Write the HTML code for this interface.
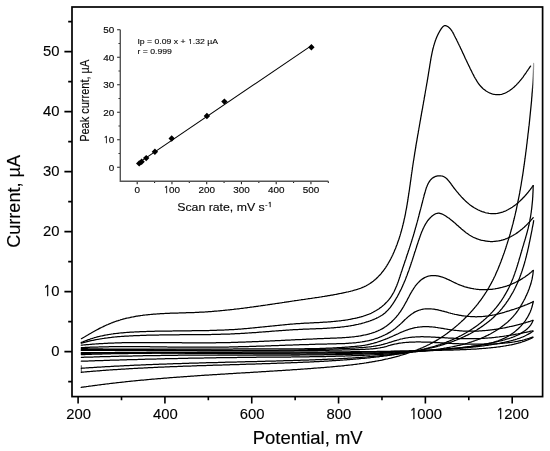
<!DOCTYPE html><html><head><meta charset="utf-8"><style>html,body{margin:0;padding:0;background:#fff;}svg{display:block;}text{font-family:"Liberation Sans", Arial, sans-serif;fill:#000;}</style></head><body>
<svg width="550" height="451" viewBox="0 0 550 451">
<rect x="0" y="0" width="550" height="451" fill="#fff"/>
<path d="M78.10 396.6V403.6 M164.92 396.6V403.6 M251.74 396.6V403.6 M338.56 396.6V403.6 M425.38 396.6V403.6 M512.20 396.6V403.6 M121.51 396.6V400.2 M208.33 396.6V400.2 M295.15 396.6V400.2 M381.97 396.6V400.2 M468.79 396.6V400.2 M64.4 351.60H72 M64.4 291.60H72 M64.4 231.60H72 M64.4 171.60H72 M64.4 111.60H72 M64.4 51.60H72 M68.2 381.60H72 M68.2 321.60H72 M68.2 261.60H72 M68.2 201.60H72 M68.2 141.60H72 M68.2 81.60H72 M68.2 21.60H72" stroke="#000" stroke-width="1.6" fill="none"/>
<rect x="72" y="7" width="470.6" height="389.6" stroke="#000" stroke-width="1.7" fill="none"/>
<text transform="translate(78.50 419.10) scale(0.97 1)" font-size="15.3" text-anchor="middle" stroke="#000" stroke-width="0.12">200</text>
<text transform="translate(165.32 419.10) scale(0.97 1)" font-size="15.3" text-anchor="middle" stroke="#000" stroke-width="0.12">400</text>
<text transform="translate(252.14 419.10) scale(0.97 1)" font-size="15.3" text-anchor="middle" stroke="#000" stroke-width="0.12">600</text>
<text transform="translate(338.96 419.10) scale(0.97 1)" font-size="15.3" text-anchor="middle" stroke="#000" stroke-width="0.12">800</text>
<text transform="translate(425.78 419.10) scale(0.97 1)" font-size="15.3" text-anchor="middle" stroke="#000" stroke-width="0.12"><tspan font-family="NanumGothic, Liberation Sans, sans-serif" font-size="13.46" stroke="#000" stroke-width="0.38">1</tspan>000</text>
<text transform="translate(512.60 419.10) scale(0.97 1)" font-size="15.3" text-anchor="middle" stroke="#000" stroke-width="0.12"><tspan font-family="NanumGothic, Liberation Sans, sans-serif" font-size="13.46" stroke="#000" stroke-width="0.38">1</tspan>200</text>
<text transform="translate(59.50 355.70) scale(0.97 1)" font-size="15.3" text-anchor="end" stroke="#000" stroke-width="0.12">0</text>
<text transform="translate(59.50 295.70) scale(0.97 1)" font-size="15.3" text-anchor="end" stroke="#000" stroke-width="0.12"><tspan font-family="NanumGothic, Liberation Sans, sans-serif" font-size="13.46" stroke="#000" stroke-width="0.38">1</tspan>0</text>
<text transform="translate(59.50 235.70) scale(0.97 1)" font-size="15.3" text-anchor="end" stroke="#000" stroke-width="0.12">20</text>
<text transform="translate(59.50 175.70) scale(0.97 1)" font-size="15.3" text-anchor="end" stroke="#000" stroke-width="0.12">30</text>
<text transform="translate(59.50 115.70) scale(0.97 1)" font-size="15.3" text-anchor="end" stroke="#000" stroke-width="0.12">40</text>
<text transform="translate(59.50 55.70) scale(0.97 1)" font-size="15.3" text-anchor="end" stroke="#000" stroke-width="0.12">50</text>
<text transform="translate(307.70 443.90) scale(1.04 1)" font-size="17.8" text-anchor="middle" stroke="#000" stroke-width="0.15">Potential, mV</text>
<text transform="translate(19.50 201.40) rotate(-90) scale(1 1.0)" font-size="18.1" text-anchor="middle" stroke="#000" stroke-width="0.15">Current, µA</text>
<path d="M137.20 181.3V184.2 M171.95 181.3V184.2 M206.70 181.3V184.2 M241.45 181.3V184.2 M276.20 181.3V184.2 M310.95 181.3V184.2 M154.57 181.3V182.9 M189.32 181.3V182.9 M224.07 181.3V182.9 M258.82 181.3V182.9 M293.57 181.3V182.9 M328.32 181.3V182.9 M117.1 167.20H120.3 M117.1 139.70H120.3 M117.1 112.20H120.3 M117.1 84.70H120.3 M117.1 57.20H120.3 M117.1 29.70H120.3 M118.5 153.45H120.3 M118.5 125.95H120.3 M118.5 98.45H120.3 M118.5 70.95H120.3 M118.5 43.45H120.3" stroke="#222" stroke-width="1.1" fill="none"/>
<path d="M120.3 29.8V181.3H328.3" stroke="#555" stroke-width="1.4" fill="none"/>
<text transform="translate(137.20 193.40) scale(1.03 1)" font-size="9.6" text-anchor="middle" fill="#222" stroke="#222" stroke-width="0.18">0</text>
<text transform="translate(171.95 193.40) scale(1.03 1)" font-size="9.6" text-anchor="middle" fill="#222" stroke="#222" stroke-width="0.18"><tspan font-family="NanumGothic, Liberation Sans, sans-serif" font-size="8.45" stroke="#222" stroke-width="0.34">1</tspan>00</text>
<text transform="translate(206.70 193.40) scale(1.03 1)" font-size="9.6" text-anchor="middle" fill="#222" stroke="#222" stroke-width="0.18">200</text>
<text transform="translate(241.45 193.40) scale(1.03 1)" font-size="9.6" text-anchor="middle" fill="#222" stroke="#222" stroke-width="0.18">300</text>
<text transform="translate(276.20 193.40) scale(1.03 1)" font-size="9.6" text-anchor="middle" fill="#222" stroke="#222" stroke-width="0.18">400</text>
<text transform="translate(310.95 193.40) scale(1.03 1)" font-size="9.6" text-anchor="middle" fill="#222" stroke="#222" stroke-width="0.18">500</text>
<text transform="translate(114.30 170.60) scale(1.03 1)" font-size="9.6" text-anchor="end" fill="#222" stroke="#222" stroke-width="0.18">0</text>
<text transform="translate(114.30 143.10) scale(1.03 1)" font-size="9.6" text-anchor="end" fill="#222" stroke="#222" stroke-width="0.18"><tspan font-family="NanumGothic, Liberation Sans, sans-serif" font-size="8.45" stroke="#222" stroke-width="0.34">1</tspan>0</text>
<text transform="translate(114.30 115.60) scale(1.03 1)" font-size="9.6" text-anchor="end" fill="#222" stroke="#222" stroke-width="0.18">20</text>
<text transform="translate(114.30 88.10) scale(1.03 1)" font-size="9.6" text-anchor="end" fill="#222" stroke="#222" stroke-width="0.18">30</text>
<text transform="translate(114.30 60.60) scale(1.03 1)" font-size="9.6" text-anchor="end" fill="#222" stroke="#222" stroke-width="0.18">40</text>
<text transform="translate(114.30 33.10) scale(1.03 1)" font-size="9.6" text-anchor="end" fill="#222" stroke="#222" stroke-width="0.18">50</text>
<text transform="translate(177.2 211.3) scale(1.12 1)" font-size="11" fill="#222" stroke="#222" stroke-width="0.15">Scan rate, mV s<tspan dx="0.3" dy="-4.3" font-size="7">-</tspan><tspan font-family="NanumGothic, Liberation Sans, sans-serif" font-size="6.45" stroke-width="0.3">1</tspan></text>
<text transform="translate(89.40 100.80) rotate(-90) scale(1 1.1)" font-size="11" text-anchor="middle" fill="#222" stroke="#222" stroke-width="0.15">Peak current, µA</text>
<text transform="translate(137.40 44.20) scale(1.1 1)" font-size="7.9" text-anchor="start" fill="#222" stroke="#222" stroke-width="0.12">Ip = 0.09 x + <tspan font-family="NanumGothic, Liberation Sans, sans-serif" font-size="6.95" stroke="#222" stroke-width="0.25">1</tspan>.32 µA</text>
<text transform="translate(137.40 53.50) scale(1.1 1)" font-size="7.9" text-anchor="start" fill="#222" stroke="#222" stroke-width="0.12">r = 0.999</text>
<path d="M139 162.6L311.4 45.6" stroke="#000" stroke-width="1.1" fill="none"/>
<path d="M139.2 160.2L142.4 163.4L139.2 166.6L136.0 163.4Z M141.6 158.6L144.8 161.8L141.6 165.0L138.4 161.8Z M146.2 154.9L149.4 158.1L146.2 161.3L143.0 158.1Z M154.9 148.5L158.1 151.7L154.9 154.9L151.7 151.7Z M171.7 135.3L174.9 138.5L171.7 141.7L168.5 138.5Z M206.9 112.8L210.1 116.0L206.9 119.2L203.7 116.0Z M224.4 98.4L227.6 101.6L224.4 104.8L221.2 101.6Z M311.4 44.0L314.6 47.2L311.4 50.4L308.2 47.2Z" fill="#000"/>
<defs><linearGradient id="g1r" x1="0" y1="0" x2="0" y2="1"><stop offset="0" stop-color="#aaa"/><stop offset="0.04" stop-color="#777"/><stop offset="0.09" stop-color="#000"/><stop offset="1" stop-color="#000"/></linearGradient></defs><g fill="none" stroke="#000" stroke-width="1.25" stroke-linejoin="round" stroke-linecap="round"><path d="M81.4 338.7 L82.2 338.2 L83.1 337.7 L83.9 337.3 L84.8 336.8 L85.6 336.3 L86.5 335.8 L87.3 335.3 L88.2 334.8 L89.0 334.3 L89.9 333.8 L90.8 333.3 L91.6 332.8 L92.5 332.3 L93.4 331.8 L94.3 331.3 L95.2 330.8 L96.1 330.3 L97.0 329.8 L97.8 329.4 L98.7 328.9 L99.6 328.4 L100.5 327.9 L101.5 327.5 L102.4 327.0 L103.3 326.6 L104.2 326.1 L105.1 325.7 L106.0 325.3 L106.9 324.9 L107.9 324.5 L108.8 324.1 L109.7 323.7 L110.7 323.3 L111.6 322.9 L112.5 322.6 L113.5 322.2 L114.4 321.9 L115.3 321.5 L116.3 321.2 L117.2 320.9 L118.2 320.6 L119.1 320.3 L120.1 320.0 L121.0 319.7 L122.0 319.5 L122.9 319.2 L123.9 318.9 L124.8 318.7 L125.8 318.4 L126.8 318.2 L127.7 318.0 L128.7 317.8 L129.7 317.6 L130.6 317.3 L131.6 317.1 L132.6 317.0 L133.5 316.8 L134.5 316.6 L135.5 316.4 L136.5 316.2 L137.5 316.1 L138.4 315.9 L139.4 315.8 L140.4 315.6 L141.4 315.5 L142.4 315.4 L143.3 315.2 L144.3 315.1 L145.3 315.0 L146.3 314.9 L147.3 314.8 L148.3 314.7 L149.3 314.6 L150.3 314.5 L151.3 314.4 L152.3 314.3 L153.3 314.2 L154.3 314.1 L155.3 314.0 L156.3 314.0 L157.3 313.9 L158.3 313.8 L159.3 313.8 L160.3 313.7 L161.3 313.7 L162.3 313.6 L163.3 313.5 L164.3 313.5 L165.3 313.4 L166.3 313.4 L167.3 313.4 L168.3 313.3 L169.3 313.3 L170.3 313.2 L171.3 313.2 L172.3 313.2 L173.3 313.1 L174.3 313.1 L175.4 313.1 L176.4 313.0 L177.4 313.0 L178.4 313.0 L179.4 312.9 L180.4 312.9 L181.4 312.9 L182.4 312.8 L183.4 312.8 L184.4 312.8 L185.5 312.8 L186.5 312.7 L187.5 312.7 L188.5 312.7 L189.5 312.6 L190.5 312.6 L191.5 312.6 L192.5 312.5 L193.5 312.5 L194.5 312.5 L195.5 312.4 L196.6 312.4 L197.6 312.3 L198.6 312.3 L199.6 312.2 L200.6 312.2 L201.6 312.1 L202.6 312.1 L203.6 312.0 L204.6 312.0 L205.6 311.9 L206.6 311.8 L207.6 311.8 L208.6 311.7 L209.6 311.6 L210.6 311.5 L211.6 311.5 L212.6 311.4 L213.6 311.3 L214.6 311.2 L215.7 311.2 L216.7 311.1 L217.7 311.0 L218.7 310.9 L219.7 310.8 L220.7 310.7 L221.7 310.6 L222.7 310.5 L223.7 310.4 L224.6 310.3 L225.6 310.2 L226.6 310.1 L227.6 310.0 L228.6 309.9 L229.6 309.8 L230.6 309.7 L231.6 309.6 L232.6 309.5 L233.6 309.4 L234.6 309.2 L235.6 309.1 L236.6 309.0 L237.6 308.9 L238.6 308.8 L239.6 308.7 L240.6 308.5 L241.6 308.4 L242.6 308.3 L243.6 308.2 L244.6 308.0 L245.5 307.9 L246.5 307.8 L247.5 307.6 L248.5 307.5 L249.5 307.4 L250.5 307.2 L251.5 307.1 L252.5 307.0 L253.5 306.8 L254.5 306.7 L255.4 306.6 L256.4 306.4 L257.4 306.3 L258.4 306.1 L259.4 306.0 L260.4 305.9 L261.4 305.7 L262.4 305.6 L263.4 305.4 L264.3 305.3 L265.3 305.2 L266.3 305.0 L267.3 304.9 L268.3 304.7 L269.3 304.6 L270.3 304.4 L271.2 304.3 L272.2 304.1 L273.2 304.0 L274.2 303.8 L275.2 303.7 L276.2 303.5 L277.2 303.4 L278.1 303.3 L279.1 303.1 L280.1 303.0 L281.1 302.8 L282.1 302.7 L283.1 302.5 L284.1 302.4 L285.0 302.2 L286.0 302.1 L287.0 301.9 L288.0 301.8 L289.0 301.6 L290.0 301.5 L290.9 301.3 L291.9 301.2 L292.9 301.0 L293.9 300.9 L294.9 300.7 L295.8 300.6 L296.8 300.5 L297.8 300.3 L298.8 300.2 L299.8 300.0 L300.8 299.9 L301.7 299.7 L302.7 299.6 L303.7 299.5 L304.7 299.3 L305.7 299.2 L306.6 299.0 L307.6 298.9 L308.6 298.7 L309.6 298.6 L310.6 298.5 L311.6 298.3 L312.5 298.2 L313.5 298.0 L314.5 297.9 L315.5 297.7 L316.5 297.6 L317.5 297.5 L318.4 297.3 L319.4 297.2 L320.4 297.0 L321.4 296.9 L322.4 296.7 L323.4 296.5 L324.4 296.4 L325.3 296.2 L326.3 296.1 L327.3 295.9 L328.3 295.7 L329.3 295.6 L330.3 295.4 L331.3 295.2 L332.3 295.1 L333.3 294.9 L334.3 294.7 L335.3 294.5 L336.3 294.3 L337.2 294.1 L338.2 293.9 L339.2 293.7 L340.2 293.5 L341.2 293.3 L342.2 293.1 L343.3 292.9 L344.3 292.7 L345.3 292.5 L346.3 292.2 L347.3 292.0 L348.3 291.8 L349.3 291.5 L350.3 291.3 L351.3 291.0 L352.3 290.8 L353.3 290.5 L354.3 290.2 L355.3 290.0 L356.3 289.7 L357.3 289.4 L358.3 289.0 L359.3 288.7 L360.2 288.4 L361.2 288.0 L362.1 287.6 L363.0 287.2 L364.0 286.8 L364.9 286.4 L365.8 286.0 L366.6 285.5 L367.5 285.0 L368.4 284.5 L369.2 284.0 L370.0 283.5 L370.8 282.9 L371.6 282.4 L372.4 281.8 L373.2 281.2 L373.9 280.6 L374.7 280.0 L375.4 279.3 L376.2 278.7 L376.9 278.0 L377.6 277.3 L378.3 276.6 L378.9 275.9 L379.6 275.2 L380.3 274.5 L380.9 273.8 L381.5 273.0 L382.2 272.2 L382.8 271.5 L383.4 270.7 L384.0 269.9 L384.5 269.1 L385.1 268.3 L385.7 267.5 L386.2 266.6 L386.8 265.8 L387.3 264.9 L387.8 264.1 L388.3 263.2 L388.8 262.4 L389.3 261.5 L389.8 260.6 L390.3 259.7 L390.8 258.8 L391.2 257.9 L391.7 257.0 L392.1 256.1 L392.6 255.2 L393.0 254.3 L393.4 253.3 L393.8 252.4 L394.2 251.5 L394.6 250.5 L395.0 249.6 L395.4 248.7 L395.8 247.7 L396.1 246.8 L396.5 245.8 L396.9 244.9 L397.2 244.0 L397.5 243.0 L397.9 242.1 L398.2 241.1 L398.5 240.2 L398.9 239.2 L399.2 238.2 L399.5 237.3 L399.8 236.3 L400.1 235.4 L400.4 234.4 L400.7 233.4 L400.9 232.5 L401.2 231.5 L401.5 230.6 L401.7 229.6 L402.0 228.6 L402.3 227.7 L402.5 226.7 L402.7 225.7 L403.0 224.7 L403.2 223.8 L403.5 222.8 L403.7 221.8 L403.9 220.8 L404.1 219.9 L404.3 218.9 L404.6 217.9 L404.8 216.9 L405.0 215.9 L405.2 215.0 L405.4 214.0 L405.6 213.0 L405.7 212.0 L405.9 211.0 L406.1 210.1 L406.3 209.1 L406.5 208.1 L406.7 207.1 L406.8 206.1 L407.0 205.1 L407.2 204.1 L407.3 203.1 L407.5 202.2 L407.7 201.2 L407.8 200.2 L408.0 199.2 L408.1 198.2 L408.3 197.2 L408.4 196.2 L408.6 195.2 L408.7 194.2 L408.9 193.2 L409.0 192.2 L409.2 191.3 L409.3 190.3 L409.5 189.3 L409.6 188.3 L409.7 187.3 L409.9 186.3 L410.0 185.3 L410.2 184.3 L410.3 183.3 L410.4 182.3 L410.6 181.3 L410.7 180.3 L410.9 179.3 L411.0 178.3 L411.1 177.4 L411.3 176.4 L411.4 175.4 L411.5 174.4 L411.7 173.4 L411.8 172.4 L412.0 171.4 L412.1 170.4 L412.3 169.4 L412.4 168.4 L412.5 167.4 L412.7 166.4 L412.8 165.5 L413.0 164.5 L413.1 163.5 L413.3 162.5 L413.4 161.5 L413.6 160.5 L413.8 159.5 L413.9 158.5 L414.1 157.5 L414.2 156.6 L414.4 155.6 L414.5 154.6 L414.7 153.6 L414.8 152.6 L415.0 151.6 L415.2 150.6 L415.3 149.6 L415.5 148.7 L415.7 147.7 L415.8 146.7 L416.0 145.7 L416.1 144.7 L416.3 143.7 L416.5 142.7 L416.6 141.8 L416.8 140.8 L417.0 139.8 L417.1 138.8 L417.3 137.8 L417.5 136.8 L417.6 135.9 L417.8 134.9 L418.0 133.9 L418.2 132.9 L418.3 131.9 L418.5 130.9 L418.7 129.9 L418.8 129.0 L419.0 128.0 L419.2 127.0 L419.4 126.0 L419.5 125.0 L419.7 124.0 L419.9 123.1 L420.0 122.1 L420.2 121.1 L420.4 120.1 L420.6 119.1 L420.7 118.1 L420.9 117.2 L421.1 116.2 L421.3 115.2 L421.4 114.2 L421.6 113.2 L421.8 112.2 L422.0 111.2 L422.1 110.3 L422.3 109.3 L422.5 108.3 L422.7 107.3 L422.8 106.3 L423.0 105.3 L423.2 104.3 L423.4 103.4 L423.5 102.4 L423.7 101.4 L423.9 100.4 L424.1 99.4 L424.2 98.4 L424.4 97.4 L424.6 96.4 L424.8 95.5 L424.9 94.5 L425.1 93.5 L425.3 92.5 L425.4 91.5 L425.6 90.5 L425.8 89.5 L426.0 88.5 L426.1 87.5 L426.3 86.5 L426.5 85.6 L426.6 84.6 L426.8 83.6 L427.0 82.6 L427.2 81.6 L427.3 80.6 L427.5 79.6 L427.7 78.6 L427.8 77.6 L428.0 76.6 L428.2 75.6 L428.3 74.6 L428.5 73.6 L428.6 72.6 L428.8 71.6 L429.0 70.6 L429.1 69.6 L429.3 68.6 L429.5 67.6 L429.6 66.6 L429.8 65.6 L429.9 64.6 L430.1 63.6 L430.3 62.6 L430.4 61.6 L430.6 60.7 L430.8 59.7 L430.9 58.7 L431.1 57.7 L431.3 56.7 L431.5 55.7 L431.7 54.7 L431.9 53.7 L432.1 52.7 L432.3 51.7 L432.5 50.8 L432.7 49.8 L433.0 48.8 L433.2 47.9 L433.5 46.9 L433.7 45.9 L434.0 45.0 L434.3 44.0 L434.6 43.1 L434.9 42.1 L435.2 41.2 L435.5 40.3 L435.9 39.3 L436.2 38.4 L436.6 37.5 L437.0 36.6 L437.4 35.7 L437.8 34.8 L438.3 33.9 L438.7 33.0 L439.2 32.2 L439.7 31.3 L440.2 30.4 L440.7 29.6 L441.3 28.7 L441.9 27.9 L442.5 27.1 L443.1 26.5 L443.8 26.0 L444.6 25.7 L445.4 25.7 L446.3 25.9 L447.2 26.3 L448.1 26.8 L448.9 27.4 L449.7 28.2 L450.4 28.9 L451.1 29.8 L451.7 30.6 L452.2 31.5 L452.8 32.4 L453.3 33.4 L453.8 34.3 L454.2 35.2 L454.7 36.2 L455.2 37.1 L455.6 38.0 L456.1 38.9 L456.6 39.8 L457.0 40.8 L457.5 41.7 L457.9 42.6 L458.3 43.5 L458.8 44.4 L459.2 45.3 L459.7 46.2 L460.1 47.1 L460.5 48.0 L460.9 48.9 L461.4 49.8 L461.8 50.7 L462.2 51.6 L462.6 52.5 L463.0 53.4 L463.5 54.3 L463.9 55.2 L464.3 56.1 L464.7 57.0 L465.1 57.9 L465.5 58.8 L466.0 59.7 L466.4 60.6 L466.8 61.4 L467.2 62.3 L467.6 63.2 L468.1 64.1 L468.5 65.0 L468.9 65.9 L469.4 66.8 L469.8 67.7 L470.2 68.6 L470.7 69.5 L471.1 70.4 L471.6 71.3 L472.0 72.2 L472.5 73.1 L472.9 74.0 L473.4 74.9 L473.9 75.9 L474.3 76.8 L474.8 77.7 L475.3 78.5 L475.9 79.4 L476.4 80.3 L476.9 81.2 L477.5 82.0 L478.0 82.9 L478.6 83.7 L479.2 84.5 L479.9 85.3 L480.5 86.0 L481.2 86.8 L481.9 87.5 L482.6 88.2 L483.3 88.9 L484.1 89.5 L484.9 90.1 L485.7 90.7 L486.6 91.3 L487.4 91.8 L488.3 92.3 L489.2 92.7 L490.2 93.2 L491.1 93.5 L492.0 93.8 L493.0 94.1 L494.0 94.3 L494.9 94.5 L495.9 94.7 L496.9 94.7 L497.8 94.7 L498.8 94.7 L499.8 94.6 L500.7 94.5 L501.7 94.3 L502.6 94.0 L503.5 93.7 L504.4 93.3 L505.4 93.0 L506.3 92.5 L507.2 92.0 L508.0 91.5 L508.9 91.0 L509.8 90.4 L510.6 89.8 L511.5 89.2 L512.3 88.6 L513.1 87.9 L513.9 87.2 L514.6 86.5 L515.4 85.8 L516.1 85.1 L516.8 84.3 L517.6 83.6 L518.2 82.8 L518.9 82.1 L519.5 81.3 L520.2 80.6 L520.8 79.8 L521.4 79.1 L522.0 78.3 L522.6 77.6 L523.2 76.8 L523.7 76.0 L524.3 75.2 L524.9 74.4 L525.4 73.6 L526.0 72.8 L526.5 72.0 L527.1 71.2 L527.7 70.4 L528.2 69.5 L528.8 68.7 L529.4 67.8 L530.0 66.9 L530.6 66.1"/><path d="M533.6 63.4 L533.6 64.4 L533.6 65.4 L533.6 66.4 L533.5 67.4 L533.5 68.4 L533.5 69.4 L533.4 70.4 L533.4 71.4 L533.4 72.4 L533.3 73.4 L533.3 74.4 L533.2 75.4 L533.2 76.4 L533.1 77.4 L533.1 78.4 L533.0 79.4 L533.0 80.4 L532.9 81.4 L532.9 82.4 L532.8 83.4 L532.8 84.4 L532.7 85.4 L532.6 86.4 L532.6 87.4 L532.5 88.4 L532.4 89.4 L532.4 90.4 L532.3 91.4 L532.2 92.4 L532.1 93.4 L532.0 94.4 L532.0 95.4 L531.9 96.4 L531.8 97.4 L531.7 98.4 L531.6 99.4 L531.6 100.4 L531.5 101.4 L531.4 102.4 L531.3 103.4 L531.2 104.4 L531.1 105.4 L531.0 106.4 L530.9 107.4 L530.8 108.4 L530.7 109.4 L530.6 110.4 L530.5 111.4 L530.4 112.4 L530.3 113.4 L530.2 114.4 L530.1 115.4 L530.0 116.4 L529.9 117.4 L529.8 118.4 L529.7 119.4 L529.6 120.4 L529.5 121.4 L529.4 122.4 L529.3 123.4 L529.2 124.4 L529.1 125.4 L528.9 126.4 L528.8 127.4 L528.7 128.4 L528.6 129.4 L528.5 130.4 L528.4 131.4 L528.3 132.3 L528.1 133.3 L528.0 134.3 L527.9 135.3 L527.8 136.3 L527.7 137.3 L527.6 138.3 L527.4 139.3 L527.3 140.3 L527.2 141.3 L527.1 142.3 L527.0 143.3 L526.8 144.3 L526.7 145.3 L526.6 146.3 L526.5 147.3 L526.4 148.3 L526.2 149.3 L526.1 150.3 L526.0 151.3 L525.8 152.3 L525.7 153.3 L525.6 154.3 L525.5 155.3 L525.3 156.2 L525.2 157.2 L525.1 158.2 L524.9 159.2 L524.8 160.2 L524.7 161.2 L524.5 162.2 L524.4 163.2 L524.3 164.2 L524.1 165.2 L524.0 166.2 L523.8 167.2 L523.7 168.2 L523.5 169.2 L523.4 170.1 L523.3 171.1 L523.1 172.1 L523.0 173.1 L522.8 174.1 L522.7 175.1 L522.5 176.1 L522.3 177.1 L522.2 178.1 L522.0 179.1 L521.9 180.0 L521.7 181.0 L521.5 182.0 L521.4 183.0 L521.2 184.0 L521.1 185.0 L520.9 186.0 L520.7 187.0 L520.5 187.9 L520.4 188.9 L520.2 189.9 L520.0 190.9 L519.8 191.9 L519.7 192.9 L519.5 193.9 L519.3 194.8 L519.1 195.8 L518.9 196.8 L518.7 197.8 L518.5 198.8 L518.3 199.8 L518.1 200.7 L518.0 201.7 L517.8 202.7 L517.5 203.7 L517.3 204.7 L517.1 205.6 L516.9 206.6 L516.7 207.6 L516.5 208.6 L516.3 209.6 L516.1 210.5 L515.9 211.5 L515.6 212.5 L515.4 213.5 L515.2 214.4 L515.0 215.4 L514.7 216.4 L514.5 217.4 L514.3 218.3 L514.0 219.3 L513.8 220.3 L513.5 221.3 L513.3 222.2 L513.1 223.2 L512.8 224.2 L512.5 225.1 L512.3 226.1 L512.0 227.1 L511.8 228.1 L511.5 229.0 L511.2 230.0 L511.0 231.0 L510.7 231.9 L510.4 232.9 L510.2 233.9 L509.9 234.8 L509.6 235.8 L509.3 236.7 L509.0 237.7 L508.7 238.7 L508.4 239.6 L508.1 240.6 L507.8 241.6 L507.5 242.5 L507.2 243.5 L506.9 244.4 L506.6 245.4 L506.3 246.3 L506.0 247.3 L505.7 248.2 L505.4 249.2 L505.0 250.2 L504.7 251.1 L504.4 252.1 L504.1 253.0 L503.7 254.0 L503.4 254.9 L503.0 255.8 L502.7 256.8 L502.4 257.7 L502.0 258.7 L501.7 259.6 L501.3 260.6 L501.0 261.5 L500.6 262.4 L500.2 263.4 L499.9 264.3 L499.5 265.2 L499.1 266.2 L498.8 267.1 L498.4 268.0 L498.0 268.9 L497.6 269.9 L497.2 270.8 L496.8 271.7 L496.4 272.6 L496.0 273.5 L495.6 274.4 L495.2 275.4 L494.8 276.3 L494.3 277.2 L493.9 278.1 L493.5 279.0 L493.0 279.9 L492.6 280.7 L492.1 281.6 L491.6 282.5 L491.2 283.4 L490.7 284.3 L490.2 285.2 L489.7 286.0 L489.2 286.9 L488.7 287.8 L488.2 288.6 L487.7 289.5 L487.2 290.3 L486.7 291.2 L486.2 292.0 L485.6 292.9 L485.1 293.7 L484.5 294.5 L484.0 295.4 L483.4 296.2 L482.8 297.0 L482.3 297.9 L481.7 298.7 L481.1 299.5 L480.5 300.3 L479.9 301.1 L479.3 301.9 L478.7 302.7 L478.1 303.5 L477.5 304.3 L476.8 305.1 L476.2 305.8 L475.6 306.6 L474.9 307.4 L474.3 308.2 L473.6 308.9 L473.0 309.7 L472.3 310.4 L471.7 311.2 L471.0 311.9 L470.3 312.7 L469.6 313.4 L468.9 314.1 L468.3 314.9 L467.6 315.6 L466.9 316.3 L466.1 317.0 L465.4 317.7 L464.7 318.5 L464.0 319.2 L463.3 319.9 L462.5 320.5 L461.8 321.2 L461.1 321.9 L460.3 322.6 L459.6 323.3 L458.8 323.9 L458.1 324.6 L457.3 325.3 L456.6 325.9 L455.8 326.6 L455.0 327.2 L454.2 327.9 L453.5 328.5 L452.7 329.1 L451.9 329.8 L451.1 330.4 L450.3 331.0 L449.5 331.6 L448.7 332.2 L447.9 332.8 L447.1 333.4 L446.3 334.0 L445.4 334.6 L444.6 335.2 L443.8 335.7 L443.0 336.3 L442.1 336.8 L441.3 337.4 L440.5 337.9 L439.6 338.5 L438.8 339.0 L437.9 339.6 L437.0 340.1 L436.2 340.6 L435.3 341.1 L434.5 341.6 L433.6 342.1 L432.7 342.6 L431.8 343.1 L430.9 343.5 L430.1 344.0 L429.2 344.5 L428.3 344.9 L427.4 345.3 L426.5 345.8 L425.6 346.2 L424.7 346.6 L423.7 347.0 L422.8 347.5 L421.9 347.9 L421.0 348.2 L420.1 348.6 L419.1 349.0 L418.2 349.4 L417.3 349.8 L416.3 350.1 L415.4 350.5 L414.5 350.8 L413.5 351.2 L412.6 351.5 L411.7 351.9 L410.7 352.2 L409.8 352.5 L408.8 352.8 L407.9 353.2 L406.9 353.5 L406.0 353.8 L405.0 354.1 L404.1 354.4 L403.1 354.7 L402.2 355.0 L401.2 355.2 L400.2 355.5 L399.3 355.8 L398.3 356.1 L397.4 356.3 L396.4 356.6 L395.4 356.9 L394.5 357.1 L393.5 357.4 L392.5 357.6 L391.6 357.8 L390.6 358.1 L389.6 358.3 L388.7 358.5 L387.7 358.8 L386.7 359.0 L385.7 359.2 L384.8 359.4 L383.8 359.6 L382.8 359.8 L381.8 360.1 L380.8 360.3 L379.9 360.5 L378.9 360.6 L377.9 360.8 L376.9 361.0 L375.9 361.2 L375.0 361.4 L374.0 361.6 L373.0 361.7 L372.0 361.9 L371.0 362.1 L370.0 362.2 L369.0 362.4 L368.1 362.6 L367.1 362.7 L366.1 362.9 L365.1 363.0 L364.1 363.2 L363.1 363.3 L362.1 363.5 L361.1 363.6 L360.1 363.7 L359.1 363.9 L358.1 364.0 L357.1 364.1 L356.1 364.3 L355.1 364.4 L354.1 364.5 L353.1 364.6 L352.1 364.8 L351.2 364.9 L350.2 365.0 L349.2 365.1 L348.2 365.2 L347.2 365.3 L346.2 365.4 L345.2 365.5 L344.2 365.6 L343.2 365.8 L342.1 365.9 L341.1 366.0 L340.1 366.1 L339.1 366.2 L338.1 366.2 L337.1 366.3 L336.1 366.4 L335.1 366.5 L334.1 366.6 L333.1 366.7 L332.1 366.8 L331.1 366.9 L330.1 367.0 L329.1 367.1 L328.1 367.1 L327.1 367.2 L326.1 367.3 L325.1 367.4 L324.1 367.5 L323.1 367.5 L322.1 367.6 L321.1 367.7 L320.1 367.8 L319.1 367.9 L318.1 367.9 L317.1 368.0 L316.1 368.1 L315.1 368.2 L314.1 368.2 L313.0 368.3 L312.0 368.4 L311.0 368.5 L310.0 368.5 L309.0 368.6 L308.0 368.7 L307.0 368.8 L306.0 368.8 L305.0 368.9 L304.0 369.0 L303.0 369.1 L302.0 369.1 L301.0 369.2 L300.0 369.3 L299.0 369.3 L298.0 369.4 L297.0 369.5 L296.0 369.5 L295.0 369.6 L294.0 369.7 L293.0 369.7 L292.0 369.8 L291.0 369.9 L290.0 370.0 L289.0 370.0 L288.0 370.1 L287.0 370.2 L286.0 370.2 L285.0 370.3 L284.0 370.3 L283.0 370.4 L282.0 370.5 L281.0 370.5 L280.0 370.6 L279.0 370.7 L278.0 370.7 L277.0 370.8 L276.0 370.9 L274.9 370.9 L273.9 371.0 L272.9 371.1 L271.9 371.1 L270.9 371.2 L269.9 371.2 L268.9 371.3 L267.9 371.4 L266.9 371.4 L265.9 371.5 L264.9 371.5 L263.9 371.6 L262.9 371.7 L261.9 371.7 L260.9 371.8 L259.9 371.9 L258.9 371.9 L257.9 372.0 L256.9 372.0 L255.9 372.1 L254.9 372.2 L253.9 372.2 L252.9 372.3 L251.9 372.3 L250.9 372.4 L249.9 372.5 L248.9 372.5 L247.9 372.6 L246.9 372.6 L245.9 372.7 L244.9 372.8 L243.9 372.8 L242.9 372.9 L241.9 372.9 L240.9 373.0 L239.9 373.1 L238.9 373.1 L237.9 373.2 L236.9 373.2 L235.9 373.3 L234.9 373.4 L233.9 373.4 L232.9 373.5 L231.9 373.5 L230.9 373.6 L229.9 373.7 L228.9 373.7 L227.9 373.8 L226.9 373.9 L225.9 373.9 L224.9 374.0 L223.9 374.0 L222.9 374.1 L221.9 374.2 L220.9 374.2 L219.9 374.3 L218.9 374.3 L217.9 374.4 L216.9 374.5 L215.9 374.5 L214.9 374.6 L213.9 374.7 L212.9 374.7 L211.9 374.8 L210.9 374.9 L209.9 374.9 L208.9 375.0 L207.9 375.0 L206.9 375.1 L205.9 375.2 L204.9 375.2 L203.9 375.3 L202.9 375.4 L201.9 375.4 L200.9 375.5 L199.9 375.6 L198.9 375.6 L197.9 375.7 L196.9 375.8 L195.9 375.8 L194.9 375.9 L193.9 376.0 L192.9 376.0 L191.9 376.1 L190.9 376.2 L189.9 376.3 L188.9 376.3 L188.0 376.4 L187.0 376.5 L186.0 376.5 L185.0 376.6 L184.0 376.7 L183.0 376.8 L182.0 376.8 L181.0 376.9 L180.0 377.0 L179.0 377.0 L178.0 377.1 L177.0 377.2 L176.0 377.3 L175.0 377.3 L174.0 377.4 L173.0 377.5 L172.0 377.6 L171.0 377.7 L170.0 377.7 L169.0 377.8 L168.0 377.9 L167.0 378.0 L166.0 378.0 L165.0 378.1 L164.0 378.2 L163.0 378.3 L162.0 378.4 L161.0 378.5 L160.0 378.5 L159.0 378.6 L158.0 378.7 L157.0 378.8 L156.0 378.9 L155.0 379.0 L154.0 379.1 L153.0 379.1 L152.0 379.2 L151.0 379.3 L150.0 379.4 L149.0 379.5 L148.0 379.6 L147.0 379.7 L146.0 379.8 L145.0 379.9 L144.0 380.0 L143.0 380.0 L142.0 380.1 L141.0 380.2 L140.0 380.3 L139.0 380.4 L138.0 380.5 L137.1 380.6 L136.1 380.7 L135.1 380.8 L134.1 380.9 L133.1 381.0 L132.1 381.1 L131.1 381.2 L130.1 381.3 L129.1 381.4 L128.1 381.5 L127.1 381.6 L126.1 381.7 L125.1 381.8 L124.1 382.0 L123.1 382.1 L122.1 382.2 L121.1 382.3 L120.1 382.4 L119.1 382.5 L118.1 382.6 L117.1 382.7 L116.1 382.8 L115.1 383.0 L114.1 383.1 L113.1 383.2 L112.1 383.3 L111.1 383.4 L110.1 383.5 L109.1 383.7 L108.1 383.8 L107.1 383.9 L106.1 384.0 L105.1 384.1 L104.1 384.3 L103.1 384.4 L102.1 384.5 L101.1 384.6 L100.1 384.8 L99.1 384.9 L98.2 385.0 L97.2 385.2 L96.2 385.3 L95.2 385.4 L94.2 385.6 L93.2 385.7 L92.2 385.8 L91.2 386.0 L90.2 386.1 L89.2 386.2 L88.2 386.4 L87.2 386.5 L86.2 386.7 L85.2 386.8 L84.2 386.9 L83.2 387.1 L82.2 387.2 L81.2 387.4" stroke="url(#g1r)"/><path d="M81.2 342.6 L82.2 342.2 L83.1 341.8 L84.0 341.4 L85.0 341.0 L85.9 340.7 L86.8 340.3 L87.8 339.9 L88.7 339.6 L89.7 339.3 L90.6 338.9 L91.6 338.6 L92.5 338.3 L93.5 338.0 L94.4 337.7 L95.4 337.5 L96.4 337.2 L97.3 336.9 L98.3 336.7 L99.3 336.5 L100.2 336.2 L101.2 336.0 L102.2 335.8 L103.2 335.6 L104.1 335.4 L105.1 335.2 L106.1 335.0 L107.1 334.8 L108.1 334.6 L109.1 334.5 L110.0 334.3 L111.0 334.2 L112.0 334.0 L113.0 333.9 L114.0 333.7 L115.0 333.6 L116.0 333.5 L117.0 333.4 L118.0 333.3 L119.0 333.1 L120.0 333.0 L121.0 332.9 L122.0 332.8 L123.0 332.8 L124.0 332.7 L125.0 332.6 L126.0 332.5 L127.0 332.4 L128.0 332.4 L129.0 332.3 L130.0 332.2 L131.0 332.2 L132.0 332.1 L133.0 332.0 L134.0 332.0 L135.0 331.9 L136.0 331.9 L137.0 331.8 L138.0 331.8 L139.0 331.8 L140.0 331.7 L141.0 331.7 L142.0 331.6 L143.0 331.6 L144.1 331.5 L145.1 331.5 L146.1 331.5 L147.1 331.4 L148.1 331.4 L149.1 331.4 L150.1 331.4 L151.1 331.3 L152.1 331.3 L153.1 331.3 L154.1 331.3 L155.1 331.2 L156.1 331.2 L157.1 331.2 L158.1 331.2 L159.1 331.1 L160.1 331.1 L161.1 331.1 L162.1 331.1 L163.1 331.1 L164.1 331.1 L165.1 331.0 L166.1 331.0 L167.1 331.0 L168.1 331.0 L169.2 331.0 L170.2 331.0 L171.2 331.0 L172.2 331.0 L173.2 330.9 L174.2 330.9 L175.2 330.9 L176.2 330.9 L177.2 330.9 L178.2 330.9 L179.2 330.9 L180.2 330.9 L181.2 330.9 L182.2 330.9 L183.2 330.8 L184.2 330.8 L185.2 330.8 L186.2 330.8 L187.2 330.8 L188.2 330.8 L189.2 330.8 L190.2 330.8 L191.2 330.8 L192.2 330.7 L193.2 330.7 L194.2 330.7 L195.2 330.7 L196.2 330.7 L197.2 330.7 L198.2 330.7 L199.2 330.7 L200.2 330.6 L201.2 330.6 L202.2 330.6 L203.2 330.6 L204.2 330.6 L205.2 330.6 L206.2 330.5 L207.2 330.5 L208.2 330.5 L209.2 330.5 L210.2 330.4 L211.2 330.4 L212.2 330.4 L213.2 330.4 L214.3 330.3 L215.3 330.3 L216.3 330.3 L217.3 330.2 L218.3 330.2 L219.3 330.2 L220.3 330.1 L221.3 330.1 L222.3 330.1 L223.3 330.0 L224.3 330.0 L225.3 329.9 L226.3 329.9 L227.3 329.8 L228.3 329.8 L229.3 329.7 L230.3 329.7 L231.3 329.6 L232.3 329.6 L233.3 329.5 L234.3 329.5 L235.3 329.4 L236.2 329.3 L237.2 329.3 L238.2 329.2 L239.2 329.1 L240.2 329.0 L241.2 329.0 L242.2 328.9 L243.2 328.8 L244.2 328.7 L245.2 328.6 L246.2 328.6 L247.2 328.5 L248.2 328.4 L249.2 328.3 L250.2 328.2 L251.2 328.1 L252.2 328.0 L253.2 327.9 L254.2 327.8 L255.2 327.7 L256.2 327.6 L257.2 327.5 L258.2 327.4 L259.2 327.3 L260.2 327.2 L261.2 327.1 L262.2 327.0 L263.2 326.9 L264.2 326.8 L265.2 326.7 L266.2 326.6 L267.2 326.5 L268.2 326.4 L269.2 326.3 L270.2 326.2 L271.2 326.1 L272.2 326.0 L273.2 325.9 L274.2 325.8 L275.2 325.7 L276.2 325.6 L277.2 325.5 L278.2 325.4 L279.2 325.3 L280.2 325.2 L281.2 325.1 L282.2 325.0 L283.2 324.9 L284.2 324.8 L285.2 324.7 L286.2 324.6 L287.2 324.5 L288.2 324.4 L289.2 324.3 L290.2 324.2 L291.2 324.1 L292.2 324.1 L293.2 324.0 L294.2 323.9 L295.2 323.8 L296.2 323.7 L297.2 323.7 L298.2 323.6 L299.2 323.5 L300.2 323.5 L301.2 323.4 L302.2 323.3 L303.2 323.3 L304.2 323.2 L305.2 323.2 L306.2 323.1 L307.2 323.1 L308.2 323.0 L309.2 323.0 L310.3 322.9 L311.3 322.9 L312.3 322.8 L313.3 322.8 L314.3 322.7 L315.3 322.7 L316.3 322.6 L317.3 322.6 L318.3 322.5 L319.3 322.5 L320.3 322.4 L321.3 322.3 L322.3 322.3 L323.3 322.2 L324.3 322.2 L325.3 322.1 L326.3 322.0 L327.3 322.0 L328.3 321.9 L329.3 321.8 L330.3 321.8 L331.3 321.7 L332.3 321.6 L333.3 321.5 L334.3 321.4 L335.3 321.3 L336.3 321.2 L337.3 321.1 L338.3 321.0 L339.2 320.9 L340.2 320.8 L341.2 320.7 L342.2 320.5 L343.2 320.4 L344.2 320.3 L345.2 320.1 L346.2 320.0 L347.2 319.8 L348.1 319.7 L349.1 319.5 L350.1 319.3 L351.1 319.1 L352.1 318.9 L353.0 318.7 L354.0 318.5 L355.0 318.3 L356.0 318.1 L357.0 317.9 L357.9 317.6 L358.9 317.4 L359.9 317.1 L360.8 316.9 L361.8 316.6 L362.8 316.3 L363.7 316.0 L364.7 315.7 L365.6 315.4 L366.6 315.0 L367.5 314.7 L368.4 314.3 L369.4 314.0 L370.3 313.6 L371.2 313.2 L372.1 312.7 L373.0 312.3 L373.9 311.8 L374.8 311.3 L375.7 310.8 L376.5 310.3 L377.4 309.8 L378.2 309.2 L379.1 308.7 L379.9 308.1 L380.7 307.5 L381.5 306.9 L382.3 306.2 L383.1 305.6 L383.9 304.9 L384.6 304.2 L385.3 303.5 L386.0 302.8 L386.7 302.1 L387.4 301.4 L388.1 300.6 L388.7 299.9 L389.3 299.1 L389.9 298.3 L390.5 297.5 L391.1 296.7 L391.6 295.9 L392.1 295.0 L392.6 294.2 L393.1 293.3 L393.6 292.5 L394.1 291.6 L394.5 290.7 L394.9 289.8 L395.3 288.9 L395.7 288.0 L396.1 287.1 L396.5 286.2 L396.9 285.3 L397.2 284.3 L397.6 283.4 L397.9 282.5 L398.3 281.5 L398.6 280.6 L398.9 279.6 L399.2 278.7 L399.5 277.7 L399.9 276.8 L400.2 275.8 L400.5 274.8 L400.8 273.9 L401.1 272.9 L401.4 272.0 L401.8 271.0 L402.1 270.0 L402.4 269.1 L402.7 268.1 L403.1 267.1 L403.4 266.2 L403.7 265.2 L404.0 264.2 L404.4 263.3 L404.7 262.3 L405.0 261.3 L405.3 260.4 L405.7 259.4 L406.0 258.5 L406.3 257.5 L406.6 256.5 L406.9 255.6 L407.3 254.6 L407.6 253.6 L407.9 252.7 L408.2 251.7 L408.5 250.8 L408.9 249.8 L409.2 248.8 L409.5 247.9 L409.8 246.9 L410.1 246.0 L410.4 245.0 L410.7 244.1 L411.0 243.1 L411.3 242.2 L411.6 241.2 L411.9 240.3 L412.2 239.3 L412.5 238.4 L412.8 237.4 L413.1 236.5 L413.4 235.6 L413.6 234.6 L413.9 233.7 L414.2 232.7 L414.5 231.8 L414.7 230.9 L415.0 229.9 L415.3 229.0 L415.5 228.0 L415.8 227.1 L416.1 226.1 L416.3 225.2 L416.6 224.3 L416.8 223.3 L417.1 222.4 L417.4 221.4 L417.6 220.5 L417.9 219.5 L418.1 218.6 L418.4 217.6 L418.6 216.7 L418.9 215.7 L419.1 214.7 L419.4 213.8 L419.6 212.8 L419.9 211.8 L420.1 210.9 L420.4 209.9 L420.7 208.9 L420.9 207.9 L421.2 206.9 L421.4 206.0 L421.7 205.0 L421.9 204.0 L422.2 203.0 L422.5 202.0 L422.7 200.9 L423.0 199.9 L423.2 198.9 L423.5 197.9 L423.8 196.9 L424.0 195.8 L424.3 194.8 L424.6 193.7 L424.9 192.7 L425.2 191.7 L425.5 190.6 L425.8 189.6 L426.1 188.6 L426.4 187.6 L426.8 186.7 L427.2 185.7 L427.6 184.8 L428.0 183.9 L428.5 183.0 L429.0 182.2 L429.5 181.4 L430.0 180.6 L430.6 179.9 L431.2 179.3 L431.9 178.6 L432.6 178.1 L433.3 177.6 L434.1 177.1 L434.9 176.7 L435.8 176.4 L436.7 176.1 L437.7 175.9 L438.7 175.8 L439.6 175.8 L440.6 175.8 L441.6 176.0 L442.5 176.2 L443.5 176.5 L444.4 177.0 L445.2 177.5 L446.0 178.1 L446.8 178.8 L447.5 179.5 L448.2 180.3 L448.9 181.1 L449.6 182.0 L450.3 182.8 L450.9 183.7 L451.5 184.6 L452.2 185.5 L452.8 186.3 L453.4 187.2 L454.0 188.0 L454.7 188.8 L455.3 189.6 L455.9 190.4 L456.5 191.1 L457.1 191.9 L457.8 192.7 L458.4 193.4 L459.0 194.2 L459.7 194.9 L460.3 195.6 L461.0 196.4 L461.6 197.1 L462.3 197.8 L463.0 198.5 L463.7 199.2 L464.4 199.9 L465.1 200.6 L465.8 201.3 L466.6 202.0 L467.3 202.6 L468.1 203.3 L468.8 203.9 L469.6 204.6 L470.4 205.2 L471.3 205.8 L472.1 206.4 L473.0 206.9 L473.8 207.5 L474.7 208.0 L475.6 208.5 L476.5 209.0 L477.4 209.5 L478.3 210.0 L479.3 210.4 L480.2 210.8 L481.2 211.2 L482.1 211.6 L483.1 211.9 L484.1 212.2 L485.0 212.5 L486.0 212.8 L487.0 213.0 L488.0 213.2 L488.9 213.4 L489.9 213.5 L490.9 213.6 L491.9 213.7 L492.8 213.7 L493.8 213.7 L494.8 213.6 L495.7 213.6 L496.7 213.5 L497.7 213.3 L498.6 213.1 L499.6 212.9 L500.5 212.7 L501.4 212.4 L502.4 212.1 L503.3 211.8 L504.2 211.4 L505.1 211.1 L506.0 210.7 L506.9 210.2 L507.8 209.8 L508.7 209.3 L509.6 208.8 L510.5 208.3 L511.3 207.7 L512.2 207.2 L513.1 206.6 L513.9 206.0 L514.7 205.4 L515.6 204.8 L516.4 204.1 L517.2 203.5 L518.0 202.8 L518.8 202.1 L519.5 201.4 L520.3 200.7 L521.0 200.0 L521.8 199.3 L522.5 198.5 L523.2 197.8 L524.0 197.0 L524.7 196.3 L525.3 195.5 L526.0 194.8 L526.7 194.0 L527.3 193.2 L528.0 192.5 L528.6 191.7 L529.2 190.9 L529.8 190.1 L530.4 189.4 L530.9 188.6 L531.5 187.8 L532.0 187.1 L532.6 186.3 L533.1 185.6"/><path d="M533.2 185.5 L533.2 186.5 L533.1 187.5 L533.1 188.5 L533.1 189.5 L533.1 190.5 L533.0 191.5 L533.0 192.5 L532.9 193.5 L532.9 194.5 L532.8 195.6 L532.8 196.6 L532.7 197.6 L532.6 198.6 L532.6 199.6 L532.5 200.6 L532.4 201.6 L532.3 202.6 L532.2 203.6 L532.1 204.6 L532.0 205.6 L531.9 206.6 L531.8 207.6 L531.7 208.5 L531.6 209.5 L531.4 210.5 L531.3 211.5 L531.2 212.5 L531.0 213.5 L530.9 214.5 L530.7 215.5 L530.6 216.5 L530.4 217.4 L530.2 218.4 L530.0 219.4 L529.9 220.4 L529.7 221.4 L529.5 222.4 L529.3 223.3 L529.1 224.3 L528.9 225.3 L528.6 226.3 L528.4 227.2 L528.2 228.2 L527.9 229.2 L527.7 230.1 L527.4 231.1 L527.2 232.1 L526.9 233.0 L526.7 234.0 L526.4 234.9 L526.1 235.9 L525.8 236.9 L525.6 237.8 L525.3 238.8 L525.0 239.7 L524.7 240.7 L524.4 241.6 L524.1 242.6 L523.8 243.6 L523.6 244.5 L523.3 245.5 L523.0 246.4 L522.7 247.4 L522.4 248.4 L522.1 249.3 L521.9 250.3 L521.6 251.3 L521.3 252.2 L521.0 253.2 L520.7 254.2 L520.5 255.1 L520.2 256.1 L519.9 257.1 L519.6 258.0 L519.3 259.0 L519.0 260.0 L518.8 260.9 L518.5 261.9 L518.2 262.8 L517.9 263.8 L517.6 264.8 L517.3 265.7 L517.0 266.7 L516.7 267.6 L516.4 268.6 L516.1 269.6 L515.8 270.5 L515.4 271.5 L515.1 272.4 L514.8 273.4 L514.5 274.3 L514.1 275.2 L513.8 276.2 L513.4 277.1 L513.1 278.0 L512.7 279.0 L512.3 279.9 L511.9 280.8 L511.6 281.7 L511.2 282.7 L510.8 283.6 L510.4 284.5 L510.0 285.4 L509.5 286.3 L509.1 287.2 L508.7 288.1 L508.2 289.0 L507.8 289.9 L507.3 290.7 L506.8 291.6 L506.3 292.5 L505.8 293.4 L505.4 294.2 L504.8 295.1 L504.3 295.9 L503.8 296.8 L503.3 297.6 L502.7 298.5 L502.2 299.3 L501.6 300.1 L501.1 301.0 L500.5 301.8 L499.9 302.6 L499.4 303.4 L498.8 304.2 L498.2 305.0 L497.5 305.8 L496.9 306.6 L496.3 307.4 L495.7 308.1 L495.0 308.9 L494.4 309.7 L493.7 310.4 L493.1 311.1 L492.4 311.9 L491.7 312.6 L491.0 313.3 L490.3 314.1 L489.6 314.8 L488.9 315.5 L488.2 316.2 L487.5 316.9 L486.7 317.6 L486.0 318.2 L485.3 318.9 L484.5 319.6 L483.7 320.2 L483.0 320.9 L482.2 321.5 L481.4 322.2 L480.7 322.8 L479.9 323.4 L479.1 324.1 L478.3 324.7 L477.5 325.3 L476.6 325.9 L475.8 326.5 L475.0 327.1 L474.2 327.6 L473.3 328.2 L472.5 328.8 L471.7 329.3 L470.8 329.9 L470.0 330.4 L469.1 331.0 L468.3 331.5 L467.4 332.0 L466.5 332.5 L465.7 333.0 L464.8 333.5 L463.9 334.0 L463.0 334.5 L462.1 335.0 L461.2 335.5 L460.3 335.9 L459.5 336.4 L458.6 336.8 L457.7 337.3 L456.7 337.7 L455.8 338.2 L454.9 338.6 L454.0 339.0 L453.1 339.4 L452.2 339.8 L451.3 340.2 L450.3 340.6 L449.4 341.0 L448.5 341.4 L447.6 341.7 L446.6 342.1 L445.7 342.5 L444.8 342.8 L443.8 343.2 L442.9 343.5 L442.0 343.8 L441.0 344.2 L440.1 344.5 L439.1 344.8 L438.2 345.1 L437.2 345.4 L436.3 345.7 L435.3 346.0 L434.4 346.3 L433.4 346.6 L432.5 346.9 L431.5 347.1 L430.5 347.4 L429.6 347.7 L428.6 347.9 L427.7 348.2 L426.7 348.4 L425.7 348.7 L424.8 348.9 L423.8 349.2 L422.8 349.4 L421.8 349.6 L420.9 349.9 L419.9 350.1 L418.9 350.3 L417.9 350.5 L417.0 350.7 L416.0 350.9 L415.0 351.1 L414.0 351.3 L413.0 351.5 L412.1 351.7 L411.1 351.9 L410.1 352.1 L409.1 352.3 L408.1 352.4 L407.1 352.6 L406.2 352.8 L405.2 353.0 L404.2 353.1 L403.2 353.3 L402.2 353.5 L401.2 353.6 L400.2 353.8 L399.2 353.9 L398.2 354.1 L397.2 354.2 L396.3 354.4 L395.3 354.5 L394.3 354.7 L393.3 354.8 L392.3 355.0 L391.3 355.1 L390.3 355.2 L389.3 355.4 L388.3 355.5 L387.3 355.6 L386.3 355.8 L385.3 355.9 L384.3 356.0 L383.4 356.2 L382.4 356.3 L381.4 356.4 L380.4 356.5 L379.4 356.6 L378.4 356.8 L377.4 356.9 L376.4 357.0 L375.4 357.1 L374.4 357.2 L373.4 357.3 L372.4 357.4 L371.4 357.5 L370.4 357.7 L369.4 357.8 L368.4 357.9 L367.4 358.0 L366.4 358.1 L365.4 358.2 L364.4 358.3 L363.4 358.4 L362.4 358.4 L361.4 358.5 L360.4 358.6 L359.5 358.7 L358.5 358.8 L357.5 358.9 L356.5 359.0 L355.5 359.1 L354.5 359.2 L353.5 359.2 L352.5 359.3 L351.5 359.4 L350.5 359.5 L349.5 359.6 L348.5 359.6 L347.5 359.7 L346.5 359.8 L345.5 359.9 L344.5 359.9 L343.5 360.0 L342.5 360.1 L341.5 360.2 L340.5 360.2 L339.5 360.3 L338.5 360.4 L337.5 360.4 L336.5 360.5 L335.5 360.6 L334.5 360.6 L333.5 360.7 L332.5 360.7 L331.5 360.8 L330.5 360.9 L329.5 360.9 L328.5 361.0 L327.5 361.0 L326.5 361.1 L325.5 361.2 L324.5 361.2 L323.5 361.3 L322.5 361.3 L321.5 361.4 L320.5 361.4 L319.5 361.5 L318.5 361.5 L317.5 361.6 L316.5 361.6 L315.5 361.7 L314.5 361.7 L313.5 361.8 L312.5 361.8 L311.5 361.9 L310.5 361.9 L309.5 362.0 L308.4 362.0 L307.4 362.1 L306.4 362.1 L305.4 362.1 L304.4 362.2 L303.4 362.2 L302.4 362.3 L301.4 362.3 L300.4 362.4 L299.4 362.4 L298.4 362.4 L297.4 362.5 L296.4 362.5 L295.4 362.6 L294.4 362.6 L293.4 362.6 L292.4 362.7 L291.4 362.7 L290.4 362.8 L289.4 362.8 L288.4 362.8 L287.4 362.9 L286.4 362.9 L285.4 362.9 L284.4 363.0 L283.4 363.0 L282.4 363.1 L281.4 363.1 L280.4 363.1 L279.4 363.2 L278.4 363.2 L277.4 363.2 L276.4 363.3 L275.4 363.3 L274.4 363.3 L273.4 363.4 L272.4 363.4 L271.4 363.4 L270.4 363.5 L269.4 363.5 L268.4 363.5 L267.4 363.6 L266.4 363.6 L265.4 363.6 L264.4 363.7 L263.4 363.7 L262.4 363.7 L261.4 363.8 L260.4 363.8 L259.4 363.8 L258.4 363.9 L257.4 363.9 L256.4 363.9 L255.4 364.0 L254.4 364.0 L253.4 364.0 L252.4 364.1 L251.4 364.1 L250.4 364.1 L249.4 364.2 L248.4 364.2 L247.4 364.2 L246.4 364.2 L245.4 364.3 L244.4 364.3 L243.4 364.3 L242.4 364.4 L241.4 364.4 L240.4 364.4 L239.4 364.5 L238.4 364.5 L237.3 364.5 L236.3 364.5 L235.3 364.6 L234.3 364.6 L233.3 364.6 L232.3 364.7 L231.3 364.7 L230.3 364.7 L229.3 364.8 L228.3 364.8 L227.3 364.8 L226.3 364.8 L225.3 364.9 L224.3 364.9 L223.3 364.9 L222.3 365.0 L221.3 365.0 L220.3 365.0 L219.3 365.1 L218.3 365.1 L217.3 365.1 L216.3 365.1 L215.3 365.2 L214.3 365.2 L213.3 365.2 L212.3 365.3 L211.3 365.3 L210.3 365.3 L209.3 365.4 L208.3 365.4 L207.3 365.4 L206.3 365.5 L205.3 365.5 L204.3 365.5 L203.3 365.6 L202.3 365.6 L201.3 365.6 L200.3 365.7 L199.3 365.7 L198.3 365.7 L197.3 365.7 L196.3 365.8 L195.3 365.8 L194.3 365.9 L193.3 365.9 L192.3 365.9 L191.3 366.0 L190.3 366.0 L189.3 366.0 L188.3 366.1 L187.3 366.1 L186.3 366.1 L185.3 366.2 L184.3 366.2 L183.3 366.2 L182.3 366.3 L181.3 366.3 L180.3 366.3 L179.3 366.4 L178.3 366.4 L177.3 366.5 L176.3 366.5 L175.3 366.5 L174.3 366.6 L173.3 366.6 L172.3 366.7 L171.3 366.7 L170.3 366.7 L169.3 366.8 L168.3 366.8 L167.3 366.9 L166.3 366.9 L165.3 366.9 L164.3 367.0 L163.3 367.0 L162.3 367.1 L161.3 367.1 L160.3 367.2 L159.3 367.2 L158.3 367.2 L157.3 367.3 L156.3 367.3 L155.3 367.4 L154.3 367.4 L153.3 367.5 L152.3 367.5 L151.3 367.6 L150.3 367.6 L149.3 367.7 L148.3 367.7 L147.3 367.8 L146.3 367.8 L145.3 367.9 L144.3 367.9 L143.3 368.0 L142.3 368.0 L141.3 368.1 L140.3 368.1 L139.3 368.2 L138.3 368.2 L137.3 368.3 L136.3 368.3 L135.3 368.4 L134.3 368.4 L133.3 368.5 L132.3 368.6 L131.3 368.6 L130.3 368.7 L129.3 368.7 L128.3 368.8 L127.3 368.8 L126.3 368.9 L125.3 369.0 L124.3 369.0 L123.3 369.1 L122.3 369.1 L121.3 369.2 L120.3 369.3 L119.3 369.3 L118.3 369.4 L117.3 369.5 L116.3 369.5 L115.3 369.6 L114.3 369.7 L113.3 369.7 L112.3 369.8 L111.3 369.9 L110.3 369.9 L109.3 370.0 L108.3 370.1 L107.3 370.2 L106.3 370.2 L105.3 370.3 L104.3 370.4 L103.3 370.4 L102.3 370.5 L101.3 370.6 L100.3 370.7 L99.3 370.8 L98.3 370.8 L97.3 370.9 L96.3 371.0 L95.3 371.1 L94.3 371.1 L93.3 371.2 L92.3 371.3 L91.3 371.4 L90.3 371.5 L89.3 371.6 L88.3 371.6 L87.3 371.7 L86.3 371.8 L85.3 371.9 L84.3 372.0 L83.3 372.1 L82.3 372.2 L81.3 372.3"/><path d="M81.3 343.2 L82.3 342.9 L83.2 342.7 L84.2 342.4 L85.2 342.1 L86.2 341.9 L87.2 341.6 L88.1 341.4 L89.1 341.2 L90.1 340.9 L91.1 340.7 L92.1 340.5 L93.0 340.3 L94.0 340.1 L95.0 339.9 L96.0 339.7 L97.0 339.5 L98.0 339.3 L99.0 339.2 L99.9 339.0 L100.9 338.8 L101.9 338.7 L102.9 338.5 L103.9 338.4 L104.9 338.2 L105.9 338.1 L106.9 338.0 L107.9 337.8 L108.9 337.7 L109.9 337.6 L110.9 337.5 L111.8 337.3 L112.8 337.2 L113.8 337.1 L114.8 337.0 L115.8 336.9 L116.8 336.8 L117.8 336.7 L118.8 336.7 L119.8 336.6 L120.8 336.5 L121.8 336.4 L122.8 336.3 L123.8 336.3 L124.8 336.2 L125.8 336.1 L126.8 336.1 L127.8 336.0 L128.8 336.0 L129.8 335.9 L130.8 335.9 L131.8 335.8 L132.8 335.8 L133.8 335.7 L134.8 335.7 L135.8 335.6 L136.8 335.6 L137.8 335.5 L138.8 335.5 L139.8 335.5 L140.8 335.4 L141.8 335.4 L142.9 335.3 L143.9 335.3 L144.9 335.3 L145.9 335.3 L146.9 335.2 L147.9 335.2 L148.9 335.2 L149.9 335.1 L150.9 335.1 L151.9 335.1 L152.9 335.1 L153.9 335.1 L154.9 335.0 L155.9 335.0 L156.9 335.0 L157.9 335.0 L158.9 335.0 L159.9 334.9 L160.9 334.9 L161.9 334.9 L162.9 334.9 L163.9 334.9 L164.9 334.9 L165.9 334.9 L166.9 334.9 L168.0 334.8 L169.0 334.8 L170.0 334.8 L171.0 334.8 L172.0 334.8 L173.0 334.8 L174.0 334.8 L175.0 334.8 L176.0 334.8 L177.0 334.8 L178.0 334.8 L179.0 334.8 L180.0 334.7 L181.0 334.7 L182.0 334.7 L183.0 334.7 L184.0 334.7 L185.0 334.7 L186.0 334.7 L187.0 334.7 L188.0 334.7 L189.1 334.7 L190.1 334.7 L191.1 334.7 L192.1 334.7 L193.1 334.7 L194.1 334.7 L195.1 334.7 L196.1 334.6 L197.1 334.6 L198.1 334.6 L199.1 334.6 L200.1 334.6 L201.1 334.6 L202.1 334.6 L203.1 334.6 L204.1 334.6 L205.1 334.6 L206.1 334.5 L207.1 334.5 L208.1 334.5 L209.1 334.5 L210.1 334.5 L211.1 334.5 L212.1 334.4 L213.1 334.4 L214.2 334.4 L215.2 334.4 L216.2 334.4 L217.2 334.3 L218.2 334.3 L219.2 334.3 L220.2 334.3 L221.2 334.2 L222.2 334.2 L223.2 334.2 L224.2 334.2 L225.2 334.1 L226.2 334.1 L227.2 334.1 L228.2 334.0 L229.2 334.0 L230.2 334.0 L231.2 333.9 L232.2 333.9 L233.2 333.8 L234.2 333.8 L235.2 333.7 L236.2 333.7 L237.2 333.7 L238.2 333.6 L239.2 333.5 L240.2 333.5 L241.2 333.4 L242.2 333.4 L243.2 333.3 L244.2 333.3 L245.2 333.2 L246.2 333.1 L247.2 333.1 L248.2 333.0 L249.2 332.9 L250.2 332.9 L251.2 332.8 L252.2 332.7 L253.2 332.7 L254.2 332.6 L255.2 332.5 L256.2 332.5 L257.2 332.4 L258.2 332.3 L259.2 332.2 L260.2 332.2 L261.2 332.1 L262.2 332.0 L263.2 331.9 L264.2 331.8 L265.1 331.8 L266.1 331.7 L267.1 331.6 L268.1 331.5 L269.1 331.5 L270.1 331.4 L271.1 331.3 L272.1 331.2 L273.1 331.1 L274.1 331.1 L275.1 331.0 L276.1 330.9 L277.1 330.8 L278.1 330.8 L279.1 330.7 L280.1 330.6 L281.1 330.5 L282.1 330.5 L283.1 330.4 L284.1 330.3 L285.1 330.3 L286.1 330.2 L287.1 330.1 L288.1 330.0 L289.2 330.0 L290.2 329.9 L291.2 329.9 L292.2 329.8 L293.2 329.7 L294.2 329.7 L295.2 329.6 L296.2 329.6 L297.2 329.5 L298.2 329.5 L299.2 329.4 L300.2 329.4 L301.2 329.3 L302.2 329.3 L303.2 329.2 L304.2 329.2 L305.2 329.1 L306.2 329.1 L307.3 329.1 L308.3 329.0 L309.3 329.0 L310.3 328.9 L311.3 328.9 L312.3 328.9 L313.3 328.8 L314.3 328.8 L315.3 328.8 L316.3 328.7 L317.3 328.7 L318.4 328.6 L319.4 328.6 L320.4 328.6 L321.4 328.5 L322.4 328.5 L323.4 328.4 L324.4 328.4 L325.4 328.3 L326.4 328.3 L327.4 328.2 L328.4 328.1 L329.4 328.1 L330.4 328.0 L331.4 327.9 L332.4 327.9 L333.4 327.8 L334.4 327.7 L335.4 327.6 L336.4 327.5 L337.4 327.4 L338.4 327.4 L339.4 327.3 L340.4 327.1 L341.4 327.0 L342.4 326.9 L343.4 326.8 L344.4 326.7 L345.4 326.5 L346.4 326.4 L347.4 326.3 L348.3 326.1 L349.3 326.0 L350.3 325.8 L351.3 325.6 L352.3 325.5 L353.3 325.3 L354.2 325.1 L355.2 324.9 L356.2 324.7 L357.2 324.5 L358.1 324.3 L359.1 324.0 L360.1 323.8 L361.0 323.6 L362.0 323.3 L363.0 323.0 L363.9 322.8 L364.9 322.5 L365.9 322.2 L366.8 321.9 L367.8 321.6 L368.7 321.3 L369.7 321.0 L370.6 320.6 L371.6 320.3 L372.5 319.9 L373.4 319.6 L374.4 319.2 L375.3 318.8 L376.2 318.4 L377.1 317.9 L378.0 317.5 L378.9 317.0 L379.8 316.5 L380.6 316.0 L381.5 315.5 L382.3 315.0 L383.1 314.4 L383.9 313.8 L384.7 313.2 L385.5 312.5 L386.2 311.8 L386.9 311.1 L387.6 310.4 L388.3 309.7 L389.0 308.9 L389.7 308.1 L390.3 307.3 L390.9 306.5 L391.5 305.7 L392.1 304.9 L392.7 304.0 L393.3 303.2 L393.8 302.3 L394.4 301.4 L394.9 300.6 L395.5 299.7 L396.0 298.8 L396.5 297.9 L397.0 297.1 L397.5 296.2 L398.0 295.3 L398.5 294.4 L398.9 293.5 L399.4 292.6 L399.8 291.7 L400.3 290.9 L400.7 290.0 L401.2 289.1 L401.6 288.2 L402.0 287.3 L402.4 286.4 L402.8 285.5 L403.2 284.6 L403.6 283.7 L404.0 282.7 L404.4 281.8 L404.8 280.9 L405.2 280.0 L405.5 279.1 L405.9 278.2 L406.2 277.3 L406.6 276.3 L407.0 275.4 L407.3 274.5 L407.6 273.6 L408.0 272.6 L408.3 271.7 L408.7 270.8 L409.0 269.9 L409.3 268.9 L409.6 268.0 L410.0 267.1 L410.3 266.1 L410.6 265.2 L410.9 264.2 L411.2 263.3 L411.5 262.3 L411.9 261.4 L412.2 260.4 L412.5 259.5 L412.8 258.5 L413.1 257.6 L413.4 256.6 L413.7 255.7 L414.0 254.7 L414.3 253.8 L414.6 252.8 L414.9 251.8 L415.3 250.9 L415.6 249.9 L415.9 248.9 L416.2 248.0 L416.5 247.0 L416.8 246.0 L417.1 245.0 L417.5 244.1 L417.8 243.1 L418.1 242.1 L418.4 241.1 L418.8 240.1 L419.1 239.2 L419.4 238.2 L419.8 237.2 L420.1 236.2 L420.5 235.2 L420.8 234.2 L421.2 233.3 L421.6 232.3 L422.0 231.3 L422.4 230.4 L422.8 229.4 L423.2 228.5 L423.7 227.6 L424.1 226.7 L424.6 225.8 L425.1 224.9 L425.5 224.0 L426.1 223.2 L426.6 222.4 L427.1 221.5 L427.7 220.7 L428.3 220.0 L428.9 219.2 L429.6 218.5 L430.2 217.8 L430.9 217.1 L431.6 216.5 L432.4 215.8 L433.1 215.3 L433.9 214.7 L434.7 214.2 L435.5 213.8 L436.4 213.5 L437.2 213.3 L438.1 213.2 L439.0 213.2 L439.9 213.4 L440.8 213.6 L441.7 213.9 L442.6 214.3 L443.5 214.8 L444.4 215.3 L445.3 215.8 L446.1 216.3 L447.0 216.9 L447.8 217.5 L448.7 218.0 L449.5 218.6 L450.3 219.3 L451.1 219.9 L451.9 220.5 L452.7 221.2 L453.4 221.8 L454.2 222.5 L455.0 223.1 L455.7 223.8 L456.5 224.5 L457.2 225.2 L458.0 225.8 L458.8 226.5 L459.5 227.2 L460.3 227.8 L461.0 228.5 L461.8 229.2 L462.6 229.8 L463.3 230.5 L464.1 231.1 L464.9 231.7 L465.7 232.4 L466.5 233.0 L467.3 233.5 L468.1 234.1 L469.0 234.7 L469.8 235.2 L470.7 235.7 L471.5 236.2 L472.4 236.7 L473.3 237.2 L474.2 237.6 L475.2 238.0 L476.1 238.4 L477.1 238.8 L478.0 239.2 L479.0 239.5 L480.0 239.8 L481.0 240.1 L482.0 240.3 L483.0 240.5 L484.0 240.7 L485.0 240.9 L486.0 241.1 L487.0 241.2 L488.0 241.3 L489.0 241.4 L490.1 241.5 L491.1 241.5 L492.1 241.5 L493.1 241.5 L494.1 241.4 L495.1 241.3 L496.1 241.2 L497.1 241.1 L498.1 241.0 L499.0 240.8 L500.0 240.6 L501.0 240.4 L501.9 240.1 L502.9 239.9 L503.8 239.6 L504.8 239.3 L505.7 238.9 L506.6 238.6 L507.5 238.2 L508.4 237.8 L509.3 237.4 L510.2 236.9 L511.1 236.5 L512.0 236.0 L512.9 235.5 L513.7 235.0 L514.6 234.5 L515.4 234.0 L516.3 233.4 L517.1 232.9 L517.9 232.3 L518.7 231.7 L519.5 231.1 L520.3 230.5 L521.1 229.8 L521.9 229.2 L522.7 228.5 L523.4 227.9 L524.2 227.2 L524.9 226.5 L525.7 225.8 L526.4 225.1 L527.1 224.4 L527.8 223.7 L528.5 222.9 L529.2 222.2 L529.9 221.4 L530.6 220.7 L531.2 219.9 L531.9 219.2 L532.5 218.4 L533.2 217.7"/><path d="M533.7 220.7 L533.5 221.7 L533.4 222.7 L533.2 223.6 L533.0 224.6 L532.8 225.6 L532.6 226.5 L532.4 227.5 L532.2 228.5 L532.1 229.5 L531.9 230.5 L531.7 231.4 L531.5 232.4 L531.3 233.4 L531.1 234.4 L530.9 235.4 L530.7 236.3 L530.5 237.3 L530.3 238.3 L530.1 239.3 L529.9 240.3 L529.7 241.3 L529.5 242.2 L529.3 243.2 L529.1 244.2 L528.9 245.2 L528.7 246.2 L528.5 247.2 L528.3 248.1 L528.0 249.1 L527.8 250.1 L527.6 251.1 L527.4 252.1 L527.1 253.0 L526.9 254.0 L526.6 255.0 L526.4 256.0 L526.2 257.0 L525.9 257.9 L525.6 258.9 L525.4 259.9 L525.1 260.9 L524.8 261.8 L524.6 262.8 L524.3 263.8 L524.0 264.7 L523.7 265.7 L523.4 266.7 L523.1 267.6 L522.8 268.6 L522.5 269.5 L522.2 270.5 L521.9 271.4 L521.6 272.4 L521.2 273.3 L520.9 274.3 L520.5 275.2 L520.2 276.2 L519.8 277.1 L519.5 278.0 L519.1 279.0 L518.7 279.9 L518.3 280.8 L518.0 281.8 L517.6 282.7 L517.2 283.6 L516.7 284.5 L516.3 285.4 L515.9 286.3 L515.5 287.2 L515.0 288.1 L514.6 289.0 L514.1 289.9 L513.7 290.8 L513.2 291.7 L512.7 292.6 L512.2 293.4 L511.7 294.3 L511.2 295.2 L510.7 296.0 L510.2 296.9 L509.7 297.8 L509.1 298.6 L508.6 299.4 L508.0 300.3 L507.5 301.1 L506.9 301.9 L506.3 302.7 L505.8 303.6 L505.2 304.4 L504.6 305.2 L504.0 306.0 L503.3 306.7 L502.7 307.5 L502.1 308.3 L501.5 309.1 L500.8 309.8 L500.2 310.6 L499.5 311.3 L498.8 312.1 L498.1 312.8 L497.5 313.5 L496.8 314.2 L496.1 314.9 L495.3 315.6 L494.6 316.3 L493.9 317.0 L493.2 317.7 L492.4 318.3 L491.7 319.0 L490.9 319.7 L490.1 320.3 L489.4 321.0 L488.6 321.6 L487.8 322.2 L487.0 322.8 L486.2 323.4 L485.4 324.0 L484.6 324.6 L483.8 325.2 L483.0 325.8 L482.2 326.4 L481.3 326.9 L480.5 327.5 L479.7 328.1 L478.8 328.6 L478.0 329.1 L477.1 329.7 L476.3 330.2 L475.4 330.7 L474.5 331.2 L473.6 331.7 L472.8 332.2 L471.9 332.7 L471.0 333.2 L470.1 333.7 L469.2 334.1 L468.3 334.6 L467.4 335.1 L466.5 335.5 L465.6 335.9 L464.7 336.4 L463.8 336.8 L462.9 337.2 L462.0 337.6 L461.1 338.0 L460.1 338.5 L459.2 338.8 L458.3 339.2 L457.4 339.6 L456.4 340.0 L455.5 340.4 L454.6 340.7 L453.6 341.1 L452.7 341.4 L451.8 341.8 L450.8 342.1 L449.9 342.5 L448.9 342.8 L448.0 343.1 L447.0 343.4 L446.1 343.7 L445.1 344.0 L444.2 344.3 L443.2 344.6 L442.3 344.9 L441.3 345.2 L440.3 345.5 L439.4 345.8 L438.4 346.0 L437.4 346.3 L436.5 346.6 L435.5 346.8 L434.5 347.1 L433.6 347.3 L432.6 347.5 L431.6 347.8 L430.6 348.0 L429.7 348.2 L428.7 348.5 L427.7 348.7 L426.7 348.9 L425.7 349.1 L424.8 349.3 L423.8 349.5 L422.8 349.7 L421.8 349.9 L420.8 350.1 L419.8 350.3 L418.9 350.5 L417.9 350.7 L416.9 350.9 L415.9 351.0 L414.9 351.2 L413.9 351.4 L412.9 351.5 L411.9 351.7 L410.9 351.9 L409.9 352.0 L408.9 352.2 L407.9 352.3 L406.9 352.5 L405.9 352.6 L404.9 352.8 L404.0 352.9 L403.0 353.0 L402.0 353.2 L401.0 353.3 L400.0 353.5 L399.0 353.6 L398.0 353.7 L397.0 353.8 L396.0 354.0 L395.0 354.1 L394.0 354.2 L393.0 354.3 L392.0 354.4 L391.0 354.6 L390.0 354.7 L389.0 354.8 L388.0 354.9 L387.0 355.0 L386.0 355.1 L385.0 355.2 L384.0 355.3 L383.0 355.4 L382.0 355.5 L381.0 355.6 L380.0 355.7 L379.0 355.8 L378.0 355.9 L377.0 356.0 L376.0 356.1 L375.0 356.2 L374.0 356.3 L373.0 356.4 L372.0 356.5 L371.0 356.6 L370.0 356.6 L369.0 356.7 L368.0 356.8 L367.0 356.9 L366.0 357.0 L365.0 357.1 L364.0 357.1 L363.0 357.2 L362.0 357.3 L361.0 357.4 L360.0 357.4 L359.0 357.5 L358.0 357.6 L357.0 357.6 L356.0 357.7 L355.0 357.8 L354.0 357.8 L353.0 357.9 L352.0 358.0 L351.0 358.0 L350.0 358.1 L349.0 358.2 L348.0 358.2 L347.0 358.3 L346.0 358.3 L345.0 358.4 L344.0 358.4 L343.0 358.5 L342.0 358.6 L341.0 358.6 L340.0 358.7 L339.0 358.7 L338.0 358.8 L337.0 358.8 L336.0 358.9 L335.0 358.9 L334.0 359.0 L333.0 359.0 L332.0 359.1 L331.0 359.1 L330.0 359.1 L329.0 359.2 L328.0 359.2 L327.0 359.3 L326.0 359.3 L324.9 359.4 L323.9 359.4 L322.9 359.4 L321.9 359.5 L320.9 359.5 L319.9 359.6 L318.9 359.6 L317.9 359.6 L316.9 359.7 L315.9 359.7 L314.9 359.8 L313.9 359.8 L312.9 359.8 L311.9 359.9 L310.9 359.9 L309.9 359.9 L308.9 360.0 L307.9 360.0 L306.9 360.0 L305.9 360.1 L304.9 360.1 L303.9 360.1 L302.9 360.2 L301.9 360.2 L300.9 360.2 L299.9 360.3 L298.9 360.3 L297.9 360.3 L296.9 360.4 L295.9 360.4 L294.9 360.4 L293.9 360.4 L292.9 360.5 L291.9 360.5 L290.9 360.5 L289.9 360.6 L288.9 360.6 L287.9 360.6 L286.9 360.7 L285.9 360.7 L284.9 360.7 L283.9 360.7 L282.9 360.8 L281.9 360.8 L280.9 360.8 L279.8 360.9 L278.8 360.9 L277.8 360.9 L276.8 360.9 L275.8 361.0 L274.8 361.0 L273.8 361.0 L272.8 361.0 L271.8 361.1 L270.8 361.1 L269.8 361.1 L268.8 361.2 L267.8 361.2 L266.8 361.2 L265.8 361.2 L264.8 361.3 L263.8 361.3 L262.8 361.3 L261.8 361.3 L260.8 361.4 L259.8 361.4 L258.8 361.4 L257.8 361.4 L256.8 361.5 L255.8 361.5 L254.8 361.5 L253.8 361.5 L252.8 361.6 L251.8 361.6 L250.8 361.6 L249.8 361.6 L248.8 361.7 L247.7 361.7 L246.7 361.7 L245.7 361.7 L244.7 361.8 L243.7 361.8 L242.7 361.8 L241.7 361.8 L240.7 361.9 L239.7 361.9 L238.7 361.9 L237.7 361.9 L236.7 362.0 L235.7 362.0 L234.7 362.0 L233.7 362.0 L232.7 362.1 L231.7 362.1 L230.7 362.1 L229.7 362.1 L228.7 362.2 L227.7 362.2 L226.7 362.2 L225.7 362.2 L224.7 362.3 L223.7 362.3 L222.7 362.3 L221.7 362.4 L220.7 362.4 L219.7 362.4 L218.6 362.4 L217.6 362.5 L216.6 362.5 L215.6 362.5 L214.6 362.5 L213.6 362.6 L212.6 362.6 L211.6 362.6 L210.6 362.6 L209.6 362.7 L208.6 362.7 L207.6 362.7 L206.6 362.7 L205.6 362.8 L204.6 362.8 L203.6 362.8 L202.6 362.9 L201.6 362.9 L200.6 362.9 L199.6 362.9 L198.6 363.0 L197.6 363.0 L196.6 363.0 L195.6 363.1 L194.6 363.1 L193.6 363.1 L192.6 363.1 L191.6 363.2 L190.5 363.2 L189.5 363.2 L188.5 363.3 L187.5 363.3 L186.5 363.3 L185.5 363.3 L184.5 363.4 L183.5 363.4 L182.5 363.4 L181.5 363.5 L180.5 363.5 L179.5 363.5 L178.5 363.6 L177.5 363.6 L176.5 363.6 L175.5 363.7 L174.5 363.7 L173.5 363.7 L172.5 363.8 L171.5 363.8 L170.5 363.8 L169.5 363.9 L168.5 363.9 L167.5 363.9 L166.5 364.0 L165.5 364.0 L164.5 364.0 L163.5 364.1 L162.5 364.1 L161.5 364.1 L160.5 364.2 L159.4 364.2 L158.4 364.3 L157.4 364.3 L156.4 364.3 L155.4 364.4 L154.4 364.4 L153.4 364.4 L152.4 364.5 L151.4 364.5 L150.4 364.6 L149.4 364.6 L148.4 364.6 L147.4 364.7 L146.4 364.7 L145.4 364.8 L144.4 364.8 L143.4 364.8 L142.4 364.9 L141.4 364.9 L140.4 365.0 L139.4 365.0 L138.4 365.1 L137.4 365.1 L136.4 365.2 L135.4 365.2 L134.4 365.2 L133.4 365.3 L132.4 365.3 L131.4 365.4 L130.4 365.4 L129.4 365.5 L128.4 365.5 L127.4 365.6 L126.4 365.6 L125.4 365.7 L124.4 365.7 L123.4 365.8 L122.4 365.8 L121.4 365.9 L120.4 365.9 L119.4 366.0 L118.3 366.0 L117.3 366.1 L116.3 366.1 L115.3 366.2 L114.3 366.2 L113.3 366.3 L112.3 366.3 L111.3 366.4 L110.3 366.5 L109.3 366.5 L108.3 366.6 L107.3 366.6 L106.3 366.7 L105.3 366.7 L104.3 366.8 L103.3 366.9 L102.3 366.9 L101.3 367.0 L100.3 367.0 L99.3 367.1 L98.3 367.2 L97.3 367.2 L96.3 367.3 L95.3 367.3 L94.3 367.4 L93.3 367.5 L92.3 367.5 L91.3 367.6 L90.3 367.7 L89.3 367.7 L88.3 367.8 L87.3 367.9 L86.3 367.9 L85.3 368.0 L84.3 368.1 L83.3 368.2 L82.3 368.2 L81.3 368.3"/><path d="M81.3 345.2 L82.3 345.1 L83.3 345.0 L84.3 344.9 L85.3 344.8 L86.3 344.7 L87.3 344.6 L88.3 344.6 L89.3 344.5 L90.3 344.4 L91.3 344.3 L92.3 344.2 L93.2 344.1 L94.2 344.1 L95.2 344.0 L96.2 343.9 L97.2 343.9 L98.2 343.8 L99.2 343.7 L100.2 343.7 L101.2 343.6 L102.2 343.5 L103.2 343.5 L104.2 343.4 L105.2 343.4 L106.2 343.3 L107.2 343.3 L108.2 343.2 L109.2 343.2 L110.2 343.1 L111.2 343.1 L112.2 343.1 L113.2 343.0 L114.2 343.0 L115.2 342.9 L116.2 342.9 L117.2 342.9 L118.2 342.8 L119.2 342.8 L120.2 342.8 L121.2 342.8 L122.2 342.7 L123.2 342.7 L124.2 342.7 L125.2 342.7 L126.2 342.6 L127.2 342.6 L128.3 342.6 L129.3 342.6 L130.3 342.6 L131.3 342.6 L132.3 342.5 L133.3 342.5 L134.3 342.5 L135.3 342.5 L136.3 342.5 L137.3 342.5 L138.3 342.5 L139.3 342.5 L140.3 342.5 L141.3 342.5 L142.3 342.5 L143.3 342.5 L144.3 342.5 L145.3 342.5 L146.3 342.5 L147.3 342.5 L148.3 342.5 L149.3 342.5 L150.3 342.5 L151.3 342.5 L152.3 342.5 L153.3 342.5 L154.3 342.5 L155.3 342.5 L156.3 342.5 L157.3 342.5 L158.3 342.5 L159.3 342.5 L160.3 342.5 L161.3 342.5 L162.3 342.6 L163.3 342.6 L164.4 342.6 L165.4 342.6 L166.4 342.6 L167.4 342.6 L168.4 342.6 L169.4 342.6 L170.4 342.6 L171.4 342.6 L172.4 342.7 L173.4 342.7 L174.4 342.7 L175.4 342.7 L176.4 342.7 L177.4 342.7 L178.4 342.7 L179.4 342.7 L180.4 342.7 L181.4 342.7 L182.4 342.8 L183.4 342.8 L184.4 342.8 L185.4 342.8 L186.4 342.8 L187.4 342.8 L188.4 342.8 L189.4 342.8 L190.4 342.8 L191.4 342.8 L192.4 342.8 L193.4 342.8 L194.5 342.8 L195.5 342.8 L196.5 342.8 L197.5 342.8 L198.5 342.9 L199.5 342.9 L200.5 342.9 L201.5 342.9 L202.5 342.9 L203.5 342.9 L204.5 342.8 L205.5 342.8 L206.5 342.8 L207.5 342.8 L208.5 342.8 L209.5 342.8 L210.5 342.8 L211.5 342.8 L212.5 342.8 L213.5 342.8 L214.5 342.8 L215.5 342.8 L216.5 342.7 L217.5 342.7 L218.5 342.7 L219.5 342.7 L220.5 342.7 L221.5 342.7 L222.5 342.6 L223.5 342.6 L224.5 342.6 L225.5 342.6 L226.5 342.6 L227.5 342.5 L228.5 342.5 L229.5 342.5 L230.5 342.5 L231.5 342.4 L232.5 342.4 L233.5 342.4 L234.5 342.3 L235.5 342.3 L236.5 342.3 L237.5 342.3 L238.5 342.2 L239.5 342.2 L240.5 342.2 L241.5 342.1 L242.5 342.1 L243.5 342.1 L244.5 342.0 L245.5 342.0 L246.5 341.9 L247.5 341.9 L248.5 341.9 L249.5 341.8 L250.5 341.8 L251.5 341.8 L252.5 341.7 L253.5 341.7 L254.5 341.6 L255.5 341.6 L256.5 341.6 L257.5 341.5 L258.5 341.5 L259.5 341.4 L260.5 341.4 L261.5 341.3 L262.5 341.3 L263.5 341.3 L264.5 341.2 L265.5 341.2 L266.5 341.1 L267.5 341.1 L268.5 341.0 L269.5 341.0 L270.5 340.9 L271.5 340.9 L272.5 340.8 L273.5 340.8 L274.5 340.8 L275.5 340.7 L276.5 340.7 L277.5 340.6 L278.5 340.6 L279.5 340.5 L280.5 340.5 L281.6 340.4 L282.6 340.4 L283.6 340.3 L284.6 340.3 L285.6 340.2 L286.6 340.2 L287.6 340.1 L288.6 340.1 L289.6 340.0 L290.6 340.0 L291.6 339.9 L292.6 339.9 L293.6 339.8 L294.6 339.8 L295.6 339.7 L296.6 339.7 L297.6 339.7 L298.6 339.6 L299.6 339.6 L300.6 339.5 L301.6 339.5 L302.6 339.4 L303.6 339.4 L304.6 339.3 L305.6 339.3 L306.6 339.2 L307.6 339.2 L308.6 339.1 L309.6 339.1 L310.6 339.0 L311.6 339.0 L312.6 339.0 L313.6 338.9 L314.6 338.9 L315.6 338.8 L316.6 338.8 L317.6 338.7 L318.6 338.7 L319.6 338.7 L320.6 338.6 L321.6 338.6 L322.6 338.5 L323.6 338.5 L324.6 338.4 L325.7 338.4 L326.7 338.4 L327.7 338.3 L328.7 338.3 L329.7 338.3 L330.7 338.2 L331.7 338.2 L332.7 338.1 L333.7 338.1 L334.7 338.1 L335.7 338.0 L336.7 338.0 L337.7 337.9 L338.7 337.9 L339.7 337.9 L340.7 337.8 L341.7 337.8 L342.7 337.7 L343.7 337.6 L344.7 337.6 L345.7 337.5 L346.7 337.4 L347.7 337.4 L348.7 337.3 L349.7 337.2 L350.7 337.1 L351.7 337.0 L352.7 336.9 L353.7 336.8 L354.7 336.7 L355.7 336.5 L356.7 336.4 L357.7 336.3 L358.7 336.1 L359.6 336.0 L360.6 335.8 L361.6 335.6 L362.6 335.4 L363.6 335.2 L364.5 335.0 L365.5 334.8 L366.5 334.6 L367.5 334.3 L368.4 334.1 L369.4 333.8 L370.4 333.5 L371.4 333.3 L372.3 332.9 L373.3 332.6 L374.2 332.3 L375.2 332.0 L376.1 331.6 L377.0 331.2 L378.0 330.8 L378.9 330.4 L379.8 330.0 L380.7 329.5 L381.6 329.1 L382.4 328.6 L383.3 328.1 L384.1 327.6 L385.0 327.0 L385.8 326.5 L386.6 325.9 L387.4 325.3 L388.2 324.7 L389.0 324.1 L389.7 323.5 L390.5 322.8 L391.2 322.2 L391.9 321.5 L392.6 320.8 L393.3 320.1 L394.0 319.4 L394.7 318.7 L395.4 317.9 L396.1 317.2 L396.7 316.4 L397.3 315.6 L398.0 314.8 L398.6 314.0 L399.2 313.2 L399.8 312.4 L400.4 311.6 L400.9 310.8 L401.5 309.9 L402.0 309.1 L402.6 308.2 L403.1 307.3 L403.6 306.5 L404.1 305.6 L404.6 304.7 L405.1 303.8 L405.6 302.9 L406.1 302.0 L406.6 301.1 L407.1 300.2 L407.5 299.3 L408.0 298.4 L408.5 297.5 L409.0 296.6 L409.4 295.7 L409.9 294.8 L410.4 293.9 L410.9 293.0 L411.4 292.1 L411.9 291.3 L412.4 290.4 L413.0 289.6 L413.5 288.7 L414.1 287.9 L414.7 287.0 L415.2 286.2 L415.8 285.4 L416.5 284.6 L417.1 283.9 L417.8 283.1 L418.5 282.4 L419.2 281.7 L419.9 281.0 L420.6 280.3 L421.4 279.7 L422.2 279.1 L423.0 278.6 L423.8 278.1 L424.6 277.6 L425.5 277.2 L426.4 276.8 L427.3 276.5 L428.2 276.2 L429.1 276.0 L430.0 275.8 L431.0 275.7 L431.9 275.6 L432.9 275.5 L433.9 275.5 L434.8 275.6 L435.8 275.6 L436.8 275.8 L437.7 275.9 L438.7 276.1 L439.6 276.3 L440.6 276.6 L441.5 276.9 L442.5 277.2 L443.4 277.5 L444.4 277.9 L445.3 278.2 L446.2 278.6 L447.2 279.1 L448.1 279.5 L449.0 279.9 L450.0 280.4 L450.9 280.8 L451.8 281.3 L452.8 281.7 L453.7 282.2 L454.6 282.7 L455.6 283.1 L456.5 283.5 L457.5 284.0 L458.4 284.4 L459.4 284.8 L460.3 285.2 L461.3 285.5 L462.3 285.9 L463.2 286.2 L464.2 286.6 L465.2 286.9 L466.1 287.1 L467.1 287.4 L468.1 287.7 L469.1 287.9 L470.1 288.1 L471.1 288.3 L472.0 288.5 L473.0 288.7 L474.0 288.9 L475.0 289.0 L476.0 289.2 L477.0 289.3 L478.0 289.4 L479.0 289.5 L480.0 289.5 L481.0 289.6 L482.0 289.6 L483.0 289.7 L484.0 289.7 L485.0 289.7 L486.0 289.7 L487.0 289.6 L488.0 289.6 L489.0 289.5 L489.9 289.4 L490.9 289.4 L491.9 289.3 L492.9 289.1 L493.9 289.0 L494.9 288.9 L495.9 288.7 L496.8 288.5 L497.8 288.3 L498.8 288.1 L499.8 287.9 L500.7 287.7 L501.7 287.5 L502.7 287.2 L503.6 286.9 L504.6 286.7 L505.5 286.4 L506.5 286.1 L507.4 285.7 L508.4 285.4 L509.3 285.1 L510.2 284.7 L511.2 284.3 L512.1 283.9 L513.0 283.5 L513.9 283.1 L514.8 282.7 L515.7 282.3 L516.6 281.8 L517.5 281.4 L518.4 280.9 L519.3 280.4 L520.2 279.9 L521.0 279.4 L521.9 278.9 L522.7 278.3 L523.6 277.8 L524.4 277.2 L525.3 276.7 L526.1 276.1 L526.9 275.5 L527.7 274.9 L528.5 274.3 L529.3 273.7 L530.1 273.0 L530.9 272.4 L531.7 271.7 L532.4 271.0 L533.2 270.4"/><path d="M533.3 270.5 L533.2 271.5 L533.1 272.5 L533.0 273.5 L532.9 274.5 L532.7 275.5 L532.5 276.5 L532.4 277.5 L532.2 278.4 L532.0 279.4 L531.7 280.4 L531.5 281.4 L531.2 282.3 L531.0 283.3 L530.7 284.2 L530.4 285.2 L530.1 286.1 L529.7 287.1 L529.4 288.0 L529.1 289.0 L528.7 289.9 L528.3 290.8 L528.0 291.8 L527.6 292.7 L527.2 293.6 L526.8 294.5 L526.4 295.4 L525.9 296.3 L525.5 297.2 L525.1 298.2 L524.6 299.1 L524.1 300.0 L523.7 300.8 L523.2 301.7 L522.7 302.6 L522.2 303.5 L521.7 304.4 L521.2 305.2 L520.7 306.1 L520.2 307.0 L519.6 307.8 L519.1 308.7 L518.5 309.5 L518.0 310.3 L517.4 311.2 L516.8 312.0 L516.2 312.8 L515.6 313.6 L515.0 314.4 L514.3 315.2 L513.7 315.9 L513.0 316.7 L512.3 317.4 L511.6 318.2 L510.9 318.9 L510.2 319.6 L509.5 320.3 L508.7 321.0 L508.0 321.7 L507.2 322.4 L506.4 323.0 L505.6 323.7 L504.8 324.3 L504.0 325.0 L503.2 325.6 L502.4 326.2 L501.6 326.8 L500.8 327.4 L500.0 328.0 L499.2 328.5 L498.3 329.1 L497.5 329.6 L496.7 330.2 L495.8 330.7 L495.0 331.2 L494.1 331.7 L493.3 332.2 L492.4 332.7 L491.5 333.2 L490.7 333.7 L489.8 334.2 L488.9 334.6 L488.1 335.1 L487.2 335.5 L486.3 335.9 L485.4 336.4 L484.5 336.8 L483.6 337.2 L482.7 337.6 L481.8 338.0 L480.9 338.4 L480.0 338.7 L479.1 339.1 L478.1 339.5 L477.2 339.8 L476.3 340.2 L475.4 340.5 L474.4 340.8 L473.5 341.2 L472.6 341.5 L471.6 341.8 L470.7 342.1 L469.7 342.4 L468.8 342.7 L467.8 343.0 L466.9 343.3 L465.9 343.5 L465.0 343.8 L464.0 344.1 L463.1 344.3 L462.1 344.6 L461.1 344.8 L460.2 345.1 L459.2 345.3 L458.2 345.5 L457.2 345.7 L456.3 346.0 L455.3 346.2 L454.3 346.4 L453.3 346.6 L452.3 346.8 L451.3 347.0 L450.4 347.2 L449.4 347.3 L448.4 347.5 L447.4 347.7 L446.4 347.9 L445.4 348.0 L444.4 348.2 L443.4 348.4 L442.4 348.5 L441.4 348.7 L440.4 348.8 L439.4 349.0 L438.4 349.1 L437.4 349.3 L436.4 349.4 L435.4 349.5 L434.4 349.7 L433.4 349.8 L432.4 349.9 L431.4 350.1 L430.4 350.2 L429.4 350.3 L428.3 350.4 L427.3 350.5 L426.3 350.6 L425.3 350.8 L424.3 350.9 L423.3 351.0 L422.3 351.1 L421.3 351.2 L420.3 351.3 L419.3 351.4 L418.3 351.5 L417.3 351.6 L416.2 351.7 L415.2 351.8 L414.2 351.9 L413.2 352.0 L412.2 352.1 L411.2 352.2 L410.2 352.2 L409.2 352.3 L408.2 352.4 L407.2 352.5 L406.2 352.6 L405.2 352.7 L404.2 352.8 L403.2 352.8 L402.1 352.9 L401.1 353.0 L400.1 353.1 L399.1 353.2 L398.1 353.2 L397.1 353.3 L396.1 353.4 L395.1 353.5 L394.1 353.5 L393.1 353.6 L392.1 353.7 L391.1 353.7 L390.1 353.8 L389.1 353.9 L388.1 354.0 L387.1 354.0 L386.1 354.1 L385.1 354.1 L384.1 354.2 L383.1 354.3 L382.0 354.3 L381.0 354.4 L380.0 354.4 L379.0 354.5 L378.0 354.6 L377.0 354.6 L376.0 354.7 L375.0 354.7 L374.0 354.8 L373.0 354.8 L372.0 354.9 L371.0 354.9 L370.0 355.0 L369.0 355.0 L368.0 355.1 L367.0 355.1 L366.0 355.2 L365.0 355.2 L364.0 355.3 L363.0 355.3 L362.0 355.4 L361.0 355.4 L360.0 355.4 L359.0 355.5 L358.0 355.5 L357.0 355.6 L356.0 355.6 L355.0 355.6 L354.0 355.7 L353.0 355.7 L352.0 355.7 L351.0 355.8 L350.0 355.8 L349.0 355.8 L348.0 355.9 L347.0 355.9 L346.0 355.9 L345.0 356.0 L344.0 356.0 L343.0 356.0 L342.0 356.1 L341.0 356.1 L340.0 356.1 L339.0 356.2 L338.0 356.2 L337.0 356.2 L336.0 356.2 L335.0 356.3 L334.0 356.3 L333.0 356.3 L332.0 356.3 L331.0 356.4 L330.0 356.4 L329.0 356.4 L328.0 356.4 L327.0 356.4 L326.0 356.5 L325.0 356.5 L324.0 356.5 L323.0 356.5 L322.0 356.5 L321.0 356.6 L320.0 356.6 L319.0 356.6 L318.0 356.6 L317.0 356.6 L316.0 356.6 L315.0 356.7 L314.0 356.7 L313.0 356.7 L312.0 356.7 L311.0 356.7 L310.0 356.7 L309.0 356.8 L308.0 356.8 L307.0 356.8 L306.0 356.8 L305.0 356.8 L304.0 356.8 L303.0 356.8 L302.0 356.8 L301.0 356.9 L300.0 356.9 L299.0 356.9 L298.0 356.9 L297.0 356.9 L296.0 356.9 L295.0 356.9 L294.0 356.9 L293.0 356.9 L292.0 356.9 L291.0 357.0 L290.0 357.0 L289.0 357.0 L288.0 357.0 L287.0 357.0 L286.0 357.0 L285.0 357.0 L284.0 357.0 L283.0 357.0 L282.0 357.0 L281.0 357.0 L280.0 357.1 L279.0 357.1 L278.0 357.1 L277.0 357.1 L276.0 357.1 L275.0 357.1 L274.0 357.1 L273.0 357.1 L272.0 357.1 L271.0 357.1 L270.0 357.1 L269.0 357.1 L267.9 357.2 L266.9 357.2 L265.9 357.2 L264.9 357.2 L263.9 357.2 L262.9 357.2 L261.9 357.2 L260.9 357.2 L259.9 357.2 L258.9 357.2 L257.9 357.2 L256.9 357.2 L255.9 357.3 L254.9 357.3 L253.9 357.3 L252.9 357.3 L251.9 357.3 L250.9 357.3 L249.9 357.3 L248.9 357.3 L247.9 357.3 L246.9 357.3 L245.9 357.4 L244.9 357.4 L243.9 357.4 L242.9 357.4 L241.9 357.4 L240.9 357.4 L239.9 357.4 L238.9 357.4 L237.9 357.4 L236.9 357.5 L235.9 357.5 L234.9 357.5 L233.9 357.5 L232.8 357.5 L231.8 357.5 L230.8 357.5 L229.8 357.5 L228.8 357.6 L227.8 357.6 L226.8 357.6 L225.8 357.6 L224.8 357.6 L223.8 357.6 L222.8 357.6 L221.8 357.7 L220.8 357.7 L219.8 357.7 L218.8 357.7 L217.8 357.7 L216.8 357.7 L215.8 357.8 L214.8 357.8 L213.8 357.8 L212.7 357.8 L211.7 357.8 L210.7 357.8 L209.7 357.9 L208.7 357.9 L207.7 357.9 L206.7 357.9 L205.7 357.9 L204.7 357.9 L203.7 358.0 L202.7 358.0 L201.7 358.0 L200.7 358.0 L199.7 358.0 L198.7 358.0 L197.7 358.1 L196.7 358.1 L195.7 358.1 L194.7 358.1 L193.6 358.1 L192.6 358.2 L191.6 358.2 L190.6 358.2 L189.6 358.2 L188.6 358.2 L187.6 358.3 L186.6 358.3 L185.6 358.3 L184.6 358.3 L183.6 358.3 L182.6 358.4 L181.6 358.4 L180.6 358.4 L179.6 358.4 L178.6 358.4 L177.6 358.5 L176.5 358.5 L175.5 358.5 L174.5 358.5 L173.5 358.6 L172.5 358.6 L171.5 358.6 L170.5 358.6 L169.5 358.6 L168.5 358.7 L167.5 358.7 L166.5 358.7 L165.5 358.7 L164.5 358.8 L163.5 358.8 L162.5 358.8 L161.5 358.8 L160.5 358.9 L159.5 358.9 L158.5 358.9 L157.4 358.9 L156.4 359.0 L155.4 359.0 L154.4 359.0 L153.4 359.0 L152.4 359.1 L151.4 359.1 L150.4 359.1 L149.4 359.1 L148.4 359.2 L147.4 359.2 L146.4 359.2 L145.4 359.2 L144.4 359.3 L143.4 359.3 L142.4 359.3 L141.4 359.3 L140.4 359.4 L139.4 359.4 L138.4 359.4 L137.4 359.5 L136.4 359.5 L135.4 359.5 L134.4 359.5 L133.4 359.6 L132.3 359.6 L131.3 359.6 L130.3 359.7 L129.3 359.7 L128.3 359.7 L127.3 359.7 L126.3 359.8 L125.3 359.8 L124.3 359.8 L123.3 359.9 L122.3 359.9 L121.3 359.9 L120.3 359.9 L119.3 360.0 L118.3 360.0 L117.3 360.0 L116.3 360.1 L115.3 360.1 L114.3 360.1 L113.3 360.2 L112.3 360.2 L111.3 360.2 L110.3 360.2 L109.3 360.3 L108.3 360.3 L107.3 360.3 L106.3 360.4 L105.3 360.4 L104.3 360.4 L103.3 360.5 L102.3 360.5 L101.3 360.5 L100.3 360.6 L99.3 360.6 L98.3 360.6 L97.3 360.7 L96.3 360.7 L95.3 360.7 L94.3 360.8 L93.3 360.8 L92.3 360.8 L91.3 360.9 L90.3 360.9 L89.3 360.9 L88.3 361.0 L87.3 361.0 L86.3 361.0 L85.3 361.1 L84.3 361.1 L83.3 361.1 L82.3 361.2 L81.3 361.2"/><path d="M81.3 347.6 L82.3 347.6 L83.3 347.5 L84.3 347.5 L85.3 347.4 L86.3 347.4 L87.3 347.3 L88.3 347.3 L89.3 347.3 L90.3 347.2 L91.3 347.2 L92.3 347.2 L93.3 347.1 L94.3 347.1 L95.3 347.1 L96.3 347.0 L97.3 347.0 L98.3 347.0 L99.3 346.9 L100.3 346.9 L101.3 346.9 L102.3 346.9 L103.3 346.9 L104.3 346.8 L105.3 346.8 L106.3 346.8 L107.3 346.8 L108.3 346.8 L109.3 346.7 L110.3 346.7 L111.3 346.7 L112.3 346.7 L113.3 346.7 L114.3 346.7 L115.3 346.7 L116.3 346.7 L117.3 346.7 L118.3 346.6 L119.3 346.6 L120.4 346.6 L121.4 346.6 L122.4 346.6 L123.4 346.6 L124.4 346.6 L125.4 346.6 L126.4 346.6 L127.4 346.6 L128.4 346.6 L129.4 346.6 L130.4 346.6 L131.4 346.6 L132.4 346.6 L133.4 346.6 L134.4 346.6 L135.4 346.6 L136.4 346.6 L137.4 346.6 L138.4 346.7 L139.4 346.7 L140.4 346.7 L141.4 346.7 L142.4 346.7 L143.4 346.7 L144.4 346.7 L145.4 346.7 L146.5 346.7 L147.5 346.7 L148.5 346.7 L149.5 346.7 L150.5 346.8 L151.5 346.8 L152.5 346.8 L153.5 346.8 L154.5 346.8 L155.5 346.8 L156.5 346.8 L157.5 346.8 L158.5 346.8 L159.5 346.9 L160.5 346.9 L161.5 346.9 L162.5 346.9 L163.5 346.9 L164.5 346.9 L165.5 346.9 L166.5 346.9 L167.5 347.0 L168.6 347.0 L169.6 347.0 L170.6 347.0 L171.6 347.0 L172.6 347.0 L173.6 347.0 L174.6 347.0 L175.6 347.1 L176.6 347.1 L177.6 347.1 L178.6 347.1 L179.6 347.1 L180.6 347.1 L181.6 347.1 L182.6 347.1 L183.6 347.1 L184.6 347.1 L185.6 347.2 L186.6 347.2 L187.6 347.2 L188.6 347.2 L189.6 347.2 L190.6 347.2 L191.6 347.2 L192.6 347.2 L193.6 347.2 L194.7 347.2 L195.7 347.2 L196.7 347.2 L197.7 347.2 L198.7 347.2 L199.7 347.2 L200.7 347.2 L201.7 347.2 L202.7 347.2 L203.7 347.2 L204.7 347.2 L205.7 347.2 L206.7 347.2 L207.7 347.2 L208.7 347.2 L209.7 347.2 L210.7 347.2 L211.7 347.2 L212.7 347.2 L213.7 347.2 L214.7 347.2 L215.7 347.2 L216.7 347.1 L217.7 347.1 L218.7 347.1 L219.7 347.1 L220.7 347.1 L221.7 347.1 L222.7 347.1 L223.7 347.0 L224.7 347.0 L225.7 347.0 L226.7 347.0 L227.7 347.0 L228.7 347.0 L229.7 346.9 L230.7 346.9 L231.7 346.9 L232.7 346.9 L233.7 346.9 L234.7 346.8 L235.7 346.8 L236.7 346.8 L237.7 346.8 L238.7 346.7 L239.7 346.7 L240.7 346.7 L241.7 346.7 L242.7 346.6 L243.7 346.6 L244.7 346.6 L245.7 346.6 L246.7 346.5 L247.7 346.5 L248.7 346.5 L249.7 346.4 L250.7 346.4 L251.7 346.4 L252.7 346.3 L253.7 346.3 L254.7 346.3 L255.7 346.3 L256.7 346.2 L257.7 346.2 L258.7 346.2 L259.7 346.1 L260.7 346.1 L261.7 346.1 L262.7 346.0 L263.7 346.0 L264.7 346.0 L265.7 345.9 L266.7 345.9 L267.7 345.9 L268.7 345.8 L269.7 345.8 L270.7 345.8 L271.7 345.7 L272.7 345.7 L273.7 345.6 L274.7 345.6 L275.7 345.6 L276.7 345.5 L277.7 345.5 L278.7 345.5 L279.7 345.4 L280.7 345.4 L281.7 345.4 L282.7 345.3 L283.7 345.3 L284.7 345.3 L285.7 345.2 L286.7 345.2 L287.7 345.2 L288.7 345.1 L289.7 345.1 L290.7 345.0 L291.7 345.0 L292.7 345.0 L293.7 344.9 L294.7 344.9 L295.7 344.9 L296.7 344.8 L297.7 344.8 L298.7 344.8 L299.7 344.7 L300.7 344.7 L301.7 344.7 L302.7 344.6 L303.7 344.6 L304.7 344.6 L305.7 344.5 L306.8 344.5 L307.8 344.5 L308.8 344.5 L309.8 344.4 L310.8 344.4 L311.8 344.4 L312.8 344.3 L313.8 344.3 L314.8 344.3 L315.8 344.2 L316.8 344.2 L317.8 344.2 L318.8 344.2 L319.8 344.1 L320.8 344.1 L321.8 344.1 L322.9 344.1 L323.9 344.0 L324.9 344.0 L325.9 344.0 L326.9 344.0 L327.9 343.9 L328.9 343.9 L329.9 343.9 L330.9 343.9 L331.9 343.8 L333.0 343.8 L334.0 343.8 L335.0 343.8 L336.0 343.8 L337.0 343.7 L338.0 343.7 L339.0 343.7 L340.0 343.7 L341.0 343.6 L342.0 343.6 L343.0 343.6 L344.1 343.5 L345.1 343.5 L346.1 343.4 L347.1 343.4 L348.1 343.3 L349.1 343.2 L350.1 343.2 L351.1 343.1 L352.1 343.0 L353.1 342.9 L354.1 342.9 L355.1 342.8 L356.1 342.7 L357.1 342.5 L358.0 342.4 L359.0 342.3 L360.0 342.2 L361.0 342.0 L362.0 341.9 L363.0 341.7 L363.9 341.6 L364.9 341.4 L365.9 341.2 L366.9 341.0 L367.8 340.8 L368.8 340.6 L369.8 340.3 L370.7 340.1 L371.7 339.8 L372.6 339.6 L373.6 339.3 L374.5 339.0 L375.5 338.7 L376.4 338.4 L377.4 338.1 L378.3 337.7 L379.2 337.4 L380.1 337.0 L381.1 336.6 L382.0 336.2 L382.9 335.8 L383.8 335.4 L384.7 335.0 L385.6 334.5 L386.5 334.1 L387.4 333.6 L388.2 333.1 L389.1 332.6 L390.0 332.1 L390.8 331.6 L391.7 331.0 L392.5 330.5 L393.3 329.9 L394.1 329.3 L395.0 328.7 L395.8 328.1 L396.6 327.4 L397.3 326.8 L398.1 326.1 L398.9 325.5 L399.6 324.8 L400.4 324.1 L401.1 323.4 L401.9 322.7 L402.6 322.0 L403.4 321.3 L404.1 320.5 L404.8 319.8 L405.6 319.1 L406.3 318.4 L407.1 317.8 L407.8 317.1 L408.6 316.4 L409.4 315.8 L410.2 315.2 L411.0 314.6 L411.8 314.0 L412.6 313.5 L413.4 312.9 L414.2 312.4 L415.1 311.9 L415.9 311.5 L416.8 311.1 L417.7 310.7 L418.6 310.4 L419.5 310.0 L420.4 309.8 L421.3 309.5 L422.2 309.3 L423.2 309.1 L424.1 309.0 L425.1 308.9 L426.1 308.8 L427.0 308.8 L428.0 308.8 L429.0 308.8 L430.0 308.8 L431.0 308.9 L432.0 309.0 L433.0 309.1 L434.0 309.2 L435.0 309.4 L435.9 309.6 L436.9 309.7 L437.9 309.9 L438.9 310.2 L439.9 310.4 L440.9 310.6 L441.9 310.9 L442.9 311.1 L443.9 311.4 L444.9 311.7 L445.9 311.9 L446.9 312.2 L447.9 312.5 L448.9 312.8 L449.9 313.0 L450.9 313.3 L451.9 313.5 L452.8 313.8 L453.8 314.0 L454.8 314.3 L455.8 314.5 L456.8 314.7 L457.8 314.9 L458.8 315.1 L459.8 315.3 L460.8 315.4 L461.7 315.6 L462.7 315.8 L463.7 315.9 L464.7 316.0 L465.7 316.1 L466.7 316.3 L467.7 316.4 L468.7 316.4 L469.7 316.5 L470.7 316.6 L471.7 316.6 L472.6 316.7 L473.6 316.7 L474.6 316.7 L475.6 316.8 L476.6 316.8 L477.6 316.7 L478.6 316.7 L479.6 316.7 L480.6 316.6 L481.6 316.6 L482.6 316.5 L483.6 316.4 L484.6 316.3 L485.6 316.2 L486.6 316.1 L487.5 316.0 L488.5 315.9 L489.5 315.7 L490.5 315.5 L491.5 315.4 L492.5 315.2 L493.4 315.0 L494.4 314.8 L495.4 314.6 L496.4 314.3 L497.4 314.1 L498.3 313.9 L499.3 313.6 L500.3 313.4 L501.3 313.1 L502.2 312.9 L503.2 312.6 L504.2 312.3 L505.1 312.0 L506.1 311.7 L507.0 311.4 L508.0 311.1 L509.0 310.9 L509.9 310.5 L510.9 310.2 L511.8 309.9 L512.8 309.6 L513.8 309.3 L514.7 309.0 L515.7 308.7 L516.6 308.3 L517.6 308.0 L518.5 307.7 L519.4 307.3 L520.4 307.0 L521.3 306.7 L522.3 306.3 L523.2 305.9 L524.1 305.6 L525.1 305.2 L526.0 304.8 L526.9 304.5 L527.8 304.1 L528.7 303.7 L529.7 303.3 L530.6 302.9 L531.5 302.5 L532.4 302.1 L533.3 301.7"/><path d="M533.2 301.4 L533.1 302.5 L532.9 303.5 L532.6 304.5 L532.4 305.5 L532.1 306.5 L531.8 307.5 L531.5 308.4 L531.2 309.4 L530.8 310.3 L530.5 311.3 L530.1 312.2 L529.6 313.1 L529.2 314.0 L528.8 314.9 L528.3 315.8 L527.8 316.7 L527.3 317.6 L526.7 318.4 L526.2 319.3 L525.6 320.1 L525.1 321.0 L524.5 321.8 L523.9 322.6 L523.2 323.3 L522.6 324.1 L521.9 324.9 L521.3 325.6 L520.6 326.4 L519.9 327.1 L519.2 327.8 L518.5 328.5 L517.7 329.2 L517.0 329.8 L516.2 330.5 L515.5 331.1 L514.7 331.8 L513.9 332.4 L513.1 333.0 L512.3 333.5 L511.5 334.1 L510.6 334.7 L509.8 335.2 L508.9 335.7 L508.1 336.2 L507.2 336.7 L506.4 337.2 L505.5 337.6 L504.6 338.1 L503.7 338.5 L502.8 338.9 L501.9 339.3 L501.0 339.7 L500.1 340.0 L499.2 340.4 L498.3 340.8 L497.3 341.1 L496.4 341.4 L495.5 341.7 L494.5 342.0 L493.6 342.3 L492.6 342.6 L491.7 342.8 L490.7 343.1 L489.7 343.3 L488.8 343.6 L487.8 343.8 L486.8 344.0 L485.8 344.2 L484.8 344.4 L483.9 344.6 L482.9 344.8 L481.9 345.0 L480.9 345.2 L479.9 345.4 L478.9 345.5 L477.9 345.7 L476.9 345.8 L475.9 346.0 L474.9 346.1 L473.9 346.3 L472.8 346.4 L471.8 346.5 L470.8 346.6 L469.8 346.8 L468.8 346.9 L467.8 347.0 L466.8 347.1 L465.8 347.2 L464.8 347.4 L463.8 347.5 L462.8 347.6 L461.8 347.7 L460.7 347.8 L459.7 347.9 L458.7 348.0 L457.7 348.1 L456.7 348.2 L455.7 348.3 L454.7 348.4 L453.7 348.5 L452.7 348.6 L451.7 348.7 L450.7 348.8 L449.7 348.9 L448.7 349.0 L447.7 349.1 L446.7 349.2 L445.7 349.3 L444.7 349.4 L443.7 349.5 L442.7 349.5 L441.7 349.6 L440.7 349.7 L439.7 349.8 L438.7 349.9 L437.7 350.0 L436.7 350.1 L435.7 350.1 L434.7 350.2 L433.7 350.3 L432.8 350.4 L431.8 350.4 L430.8 350.5 L429.8 350.6 L428.8 350.7 L427.8 350.8 L426.8 350.8 L425.8 350.9 L424.8 351.0 L423.8 351.0 L422.8 351.1 L421.8 351.2 L420.8 351.2 L419.8 351.3 L418.8 351.4 L417.8 351.4 L416.8 351.5 L415.8 351.6 L414.8 351.6 L413.8 351.7 L412.8 351.8 L411.8 351.8 L410.8 351.9 L409.8 351.9 L408.8 352.0 L407.8 352.1 L406.9 352.1 L405.9 352.2 L404.9 352.2 L403.9 352.3 L402.9 352.3 L401.9 352.4 L400.9 352.4 L399.9 352.5 L398.9 352.6 L397.9 352.6 L396.9 352.7 L395.9 352.7 L394.9 352.8 L393.9 352.8 L392.9 352.8 L391.9 352.9 L390.9 352.9 L389.9 353.0 L388.9 353.0 L387.9 353.1 L386.9 353.1 L385.9 353.2 L384.9 353.2 L383.9 353.2 L382.9 353.3 L381.9 353.3 L380.9 353.4 L379.9 353.4 L378.9 353.4 L377.9 353.5 L376.9 353.5 L375.9 353.6 L374.9 353.6 L373.9 353.6 L372.9 353.7 L371.9 353.7 L370.9 353.7 L369.9 353.8 L368.9 353.8 L367.9 353.8 L366.9 353.9 L365.9 353.9 L364.9 353.9 L363.9 354.0 L362.9 354.0 L361.9 354.0 L360.9 354.0 L359.9 354.1 L358.9 354.1 L357.9 354.1 L356.9 354.1 L355.9 354.2 L354.9 354.2 L353.9 354.2 L352.9 354.2 L351.9 354.3 L350.9 354.3 L349.9 354.3 L348.9 354.3 L347.9 354.4 L346.9 354.4 L345.9 354.4 L344.9 354.4 L343.9 354.4 L342.9 354.5 L341.9 354.5 L340.9 354.5 L339.9 354.5 L338.9 354.5 L337.9 354.6 L336.9 354.6 L335.9 354.6 L334.9 354.6 L333.9 354.6 L332.8 354.6 L331.8 354.6 L330.8 354.7 L329.8 354.7 L328.8 354.7 L327.8 354.7 L326.8 354.7 L325.8 354.7 L324.8 354.7 L323.8 354.8 L322.8 354.8 L321.8 354.8 L320.8 354.8 L319.8 354.8 L318.8 354.8 L317.8 354.8 L316.8 354.8 L315.8 354.8 L314.8 354.8 L313.8 354.9 L312.8 354.9 L311.8 354.9 L310.8 354.9 L309.8 354.9 L308.8 354.9 L307.8 354.9 L306.8 354.9 L305.8 354.9 L304.8 354.9 L303.8 354.9 L302.8 354.9 L301.8 354.9 L300.8 354.9 L299.8 355.0 L298.8 355.0 L297.8 355.0 L296.7 355.0 L295.7 355.0 L294.7 355.0 L293.7 355.0 L292.7 355.0 L291.7 355.0 L290.7 355.0 L289.7 355.0 L288.7 355.0 L287.7 355.0 L286.7 355.0 L285.7 355.0 L284.7 355.0 L283.7 355.0 L282.7 355.0 L281.7 355.0 L280.7 355.0 L279.7 355.0 L278.7 355.0 L277.7 355.0 L276.7 355.0 L275.7 355.0 L274.7 355.0 L273.7 355.0 L272.7 355.0 L271.7 355.0 L270.7 355.0 L269.7 355.0 L268.7 355.0 L267.7 355.0 L266.7 355.0 L265.6 355.0 L264.6 355.0 L263.6 355.0 L262.6 355.0 L261.6 355.0 L260.6 355.0 L259.6 355.0 L258.6 355.0 L257.6 355.0 L256.6 355.0 L255.6 355.0 L254.6 355.0 L253.6 355.0 L252.6 355.0 L251.6 355.0 L250.6 355.0 L249.6 355.0 L248.6 355.0 L247.6 355.0 L246.6 355.0 L245.6 355.0 L244.6 355.0 L243.6 355.0 L242.6 355.0 L241.6 355.0 L240.6 355.0 L239.6 355.0 L238.6 355.0 L237.6 355.0 L236.6 355.0 L235.6 355.0 L234.5 355.0 L233.5 355.0 L232.5 355.0 L231.5 355.0 L230.5 355.0 L229.5 355.0 L228.5 355.0 L227.5 355.0 L226.5 355.0 L225.5 355.0 L224.5 355.0 L223.5 355.0 L222.5 355.0 L221.5 355.0 L220.5 355.0 L219.5 355.0 L218.5 355.0 L217.5 355.0 L216.5 355.0 L215.5 355.0 L214.5 355.0 L213.5 355.0 L212.5 355.0 L211.5 355.0 L210.5 355.0 L209.5 355.0 L208.5 355.0 L207.5 355.0 L206.5 355.0 L205.5 355.1 L204.5 355.1 L203.5 355.1 L202.5 355.1 L201.5 355.1 L200.5 355.1 L199.5 355.1 L198.5 355.1 L197.5 355.1 L196.5 355.1 L195.5 355.1 L194.5 355.1 L193.5 355.1 L192.5 355.1 L191.5 355.1 L190.5 355.1 L189.5 355.1 L188.5 355.2 L187.5 355.2 L186.5 355.2 L185.5 355.2 L184.4 355.2 L183.4 355.2 L182.4 355.2 L181.4 355.2 L180.4 355.2 L179.4 355.2 L178.4 355.2 L177.4 355.3 L176.4 355.3 L175.4 355.3 L174.4 355.3 L173.4 355.3 L172.4 355.3 L171.4 355.3 L170.4 355.3 L169.4 355.3 L168.4 355.4 L167.4 355.4 L166.4 355.4 L165.4 355.4 L164.4 355.4 L163.4 355.4 L162.4 355.4 L161.4 355.4 L160.4 355.5 L159.4 355.5 L158.4 355.5 L157.4 355.5 L156.4 355.5 L155.4 355.5 L154.4 355.6 L153.4 355.6 L152.4 355.6 L151.4 355.6 L150.4 355.6 L149.4 355.6 L148.4 355.6 L147.4 355.7 L146.4 355.7 L145.4 355.7 L144.4 355.7 L143.4 355.7 L142.4 355.8 L141.4 355.8 L140.4 355.8 L139.4 355.8 L138.4 355.8 L137.4 355.9 L136.4 355.9 L135.4 355.9 L134.4 355.9 L133.4 355.9 L132.4 356.0 L131.4 356.0 L130.4 356.0 L129.4 356.0 L128.4 356.0 L127.4 356.1 L126.4 356.1 L125.4 356.1 L124.4 356.1 L123.4 356.2 L122.4 356.2 L121.4 356.2 L120.4 356.2 L119.4 356.2 L118.4 356.3 L117.4 356.3 L116.4 356.3 L115.4 356.3 L114.4 356.4 L113.4 356.4 L112.4 356.4 L111.4 356.4 L110.4 356.5 L109.4 356.5 L108.4 356.5 L107.4 356.6 L106.4 356.6 L105.4 356.6 L104.4 356.6 L103.3 356.7 L102.3 356.7 L101.3 356.7 L100.3 356.7 L99.3 356.8 L98.3 356.8 L97.3 356.8 L96.3 356.9 L95.3 356.9 L94.3 356.9 L93.3 357.0 L92.3 357.0 L91.3 357.0 L90.3 357.1 L89.3 357.1 L88.3 357.1 L87.3 357.1 L86.3 357.2 L85.3 357.2 L84.3 357.2 L83.3 357.3 L82.3 357.3 L81.3 357.3"/><path d="M81.3 348.6 L82.3 348.7 L83.3 348.7 L84.3 348.7 L85.3 348.7 L86.3 348.7 L87.3 348.7 L88.3 348.8 L89.3 348.8 L90.3 348.8 L91.3 348.8 L92.3 348.8 L93.3 348.8 L94.3 348.8 L95.4 348.9 L96.4 348.9 L97.4 348.9 L98.4 348.9 L99.4 348.9 L100.4 348.9 L101.4 348.9 L102.4 348.9 L103.4 349.0 L104.4 349.0 L105.4 349.0 L106.4 349.0 L107.4 349.0 L108.4 349.0 L109.4 349.0 L110.4 349.0 L111.4 349.0 L112.4 349.0 L113.4 349.1 L114.4 349.1 L115.4 349.1 L116.4 349.1 L117.4 349.1 L118.4 349.1 L119.4 349.1 L120.4 349.1 L121.4 349.1 L122.5 349.1 L123.5 349.1 L124.5 349.1 L125.5 349.1 L126.5 349.1 L127.5 349.1 L128.5 349.1 L129.5 349.2 L130.5 349.2 L131.5 349.2 L132.5 349.2 L133.5 349.2 L134.5 349.2 L135.5 349.2 L136.5 349.2 L137.5 349.2 L138.5 349.2 L139.5 349.2 L140.5 349.2 L141.5 349.2 L142.5 349.2 L143.5 349.2 L144.5 349.2 L145.5 349.2 L146.5 349.2 L147.5 349.2 L148.5 349.2 L149.5 349.2 L150.5 349.2 L151.5 349.2 L152.5 349.2 L153.5 349.2 L154.5 349.2 L155.5 349.2 L156.5 349.2 L157.5 349.2 L158.6 349.2 L159.6 349.2 L160.6 349.2 L161.6 349.2 L162.6 349.2 L163.6 349.2 L164.6 349.2 L165.6 349.2 L166.6 349.2 L167.6 349.2 L168.6 349.2 L169.6 349.2 L170.6 349.2 L171.6 349.2 L172.6 349.2 L173.6 349.2 L174.6 349.2 L175.6 349.2 L176.6 349.2 L177.6 349.2 L178.6 349.2 L179.6 349.2 L180.6 349.2 L181.6 349.2 L182.6 349.2 L183.6 349.1 L184.6 349.1 L185.6 349.1 L186.6 349.1 L187.6 349.1 L188.6 349.1 L189.6 349.1 L190.6 349.1 L191.6 349.1 L192.6 349.1 L193.6 349.1 L194.6 349.1 L195.6 349.1 L196.6 349.1 L197.6 349.1 L198.6 349.1 L199.6 349.1 L200.7 349.1 L201.7 349.1 L202.7 349.1 L203.7 349.1 L204.7 349.1 L205.7 349.1 L206.7 349.1 L207.7 349.1 L208.7 349.1 L209.7 349.0 L210.7 349.0 L211.7 349.0 L212.7 349.0 L213.7 349.0 L214.7 349.0 L215.7 349.0 L216.7 349.0 L217.7 349.0 L218.7 349.0 L219.7 349.0 L220.7 349.0 L221.7 349.0 L222.7 349.0 L223.7 349.0 L224.7 349.0 L225.7 349.0 L226.7 349.0 L227.7 349.0 L228.7 349.0 L229.7 349.0 L230.7 349.0 L231.7 349.0 L232.7 349.0 L233.7 348.9 L234.8 348.9 L235.8 348.9 L236.8 348.9 L237.8 348.9 L238.8 348.9 L239.8 348.9 L240.8 348.9 L241.8 348.9 L242.8 348.9 L243.8 348.9 L244.8 348.9 L245.8 348.9 L246.8 348.9 L247.8 348.9 L248.8 348.9 L249.8 348.9 L250.8 348.9 L251.8 348.9 L252.8 348.9 L253.8 348.9 L254.8 348.9 L255.8 348.9 L256.8 348.9 L257.8 348.9 L258.8 348.9 L259.9 348.9 L260.9 348.9 L261.9 348.9 L262.9 348.9 L263.9 348.9 L264.9 348.9 L265.9 348.9 L266.9 348.9 L267.9 348.9 L268.9 348.9 L269.9 348.9 L270.9 348.9 L271.9 348.9 L272.9 348.9 L273.9 348.9 L274.9 348.9 L275.9 348.9 L276.9 348.9 L277.9 348.9 L278.9 348.9 L280.0 348.9 L281.0 348.9 L282.0 348.9 L283.0 348.9 L284.0 348.9 L285.0 348.9 L286.0 348.9 L287.0 348.9 L288.0 348.9 L289.0 348.9 L290.0 348.9 L291.0 348.9 L292.0 348.8 L293.0 348.8 L294.0 348.8 L295.0 348.8 L296.0 348.8 L297.0 348.8 L298.1 348.8 L299.1 348.8 L300.1 348.8 L301.1 348.8 L302.1 348.8 L303.1 348.8 L304.1 348.8 L305.1 348.7 L306.1 348.7 L307.1 348.7 L308.1 348.7 L309.1 348.7 L310.1 348.7 L311.1 348.6 L312.1 348.6 L313.1 348.6 L314.1 348.6 L315.1 348.6 L316.1 348.5 L317.1 348.5 L318.1 348.5 L319.1 348.5 L320.2 348.4 L321.2 348.4 L322.2 348.4 L323.2 348.3 L324.2 348.3 L325.2 348.3 L326.2 348.2 L327.2 348.2 L328.2 348.2 L329.2 348.1 L330.2 348.1 L331.2 348.0 L332.2 348.0 L333.2 347.9 L334.2 347.9 L335.2 347.8 L336.2 347.8 L337.2 347.7 L338.2 347.7 L339.2 347.6 L340.2 347.5 L341.2 347.5 L342.2 347.4 L343.2 347.4 L344.2 347.3 L345.2 347.2 L346.2 347.1 L347.2 347.1 L348.2 347.0 L349.2 346.9 L350.2 346.8 L351.2 346.7 L352.2 346.7 L353.2 346.6 L354.2 346.5 L355.2 346.4 L356.2 346.3 L357.2 346.2 L358.2 346.1 L359.1 346.0 L360.1 345.9 L361.1 345.8 L362.1 345.6 L363.1 345.5 L364.1 345.3 L365.1 345.2 L366.1 345.0 L367.0 344.8 L368.0 344.6 L369.0 344.4 L369.9 344.2 L370.9 343.9 L371.9 343.7 L372.8 343.5 L373.8 343.2 L374.7 342.9 L375.7 342.6 L376.7 342.3 L377.6 342.0 L378.6 341.7 L379.5 341.4 L380.4 341.1 L381.4 340.7 L382.3 340.4 L383.3 340.0 L384.2 339.7 L385.1 339.3 L386.1 338.9 L387.0 338.6 L387.9 338.2 L388.9 337.8 L389.8 337.4 L390.7 337.0 L391.7 336.6 L392.6 336.2 L393.5 335.8 L394.4 335.3 L395.4 334.9 L396.3 334.5 L397.2 334.1 L398.1 333.7 L399.1 333.2 L400.0 332.8 L400.9 332.4 L401.8 332.0 L402.8 331.6 L403.7 331.2 L404.6 330.9 L405.6 330.5 L406.5 330.2 L407.5 329.8 L408.4 329.5 L409.3 329.2 L410.3 328.9 L411.2 328.6 L412.2 328.4 L413.2 328.1 L414.1 327.9 L415.1 327.7 L416.1 327.5 L417.0 327.4 L418.0 327.2 L419.0 327.1 L420.0 327.0 L420.9 326.9 L421.9 326.8 L422.9 326.7 L423.9 326.7 L424.9 326.7 L425.8 326.7 L426.8 326.7 L427.8 326.7 L428.8 326.7 L429.8 326.8 L430.8 326.8 L431.8 326.9 L432.8 327.0 L433.8 327.1 L434.8 327.2 L435.8 327.4 L436.8 327.5 L437.8 327.7 L438.8 327.8 L439.8 328.0 L440.8 328.1 L441.8 328.3 L442.8 328.4 L443.8 328.6 L444.8 328.8 L445.8 329.0 L446.8 329.1 L447.8 329.3 L448.8 329.5 L449.8 329.6 L450.8 329.8 L451.8 329.9 L452.8 330.0 L453.8 330.2 L454.8 330.3 L455.8 330.4 L456.8 330.5 L457.8 330.6 L458.8 330.7 L459.8 330.8 L460.8 330.9 L461.8 330.9 L462.8 331.0 L463.8 331.0 L464.8 331.1 L465.8 331.1 L466.8 331.1 L467.8 331.2 L468.8 331.2 L469.8 331.2 L470.8 331.2 L471.8 331.2 L472.8 331.2 L473.8 331.2 L474.8 331.1 L475.8 331.1 L476.8 331.1 L477.8 331.0 L478.8 331.0 L479.8 330.9 L480.8 330.9 L481.8 330.8 L482.8 330.7 L483.8 330.6 L484.8 330.6 L485.8 330.5 L486.8 330.4 L487.8 330.3 L488.8 330.2 L489.8 330.1 L490.8 329.9 L491.8 329.8 L492.8 329.7 L493.8 329.6 L494.8 329.4 L495.8 329.3 L496.8 329.1 L497.8 329.0 L498.8 328.8 L499.8 328.7 L500.8 328.5 L501.8 328.3 L502.7 328.1 L503.7 328.0 L504.7 327.8 L505.7 327.6 L506.7 327.4 L507.7 327.2 L508.7 327.0 L509.6 326.7 L510.6 326.5 L511.6 326.3 L512.6 326.1 L513.6 325.9 L514.5 325.6 L515.5 325.4 L516.5 325.1 L517.5 324.9 L518.4 324.6 L519.4 324.4 L520.4 324.1 L521.3 323.9 L522.3 323.6 L523.3 323.3 L524.2 323.0 L525.2 322.8 L526.1 322.5 L527.1 322.2 L528.1 321.9 L529.0 321.6 L530.0 321.3 L530.9 321.0 L531.9 320.7 L532.8 320.4"/><path d="M533.1 320.3 L532.7 321.3 L532.3 322.3 L531.8 323.2 L531.3 324.0 L530.8 324.9 L530.2 325.7 L529.6 326.4 L528.9 327.2 L528.2 327.9 L527.5 328.5 L526.8 329.2 L526.1 329.8 L525.3 330.4 L524.5 331.0 L523.7 331.6 L522.9 332.1 L522.1 332.6 L521.3 333.1 L520.4 333.6 L519.6 334.1 L518.7 334.6 L517.8 335.0 L516.9 335.4 L516.0 335.8 L515.1 336.2 L514.2 336.6 L513.2 337.0 L512.3 337.3 L511.3 337.7 L510.4 338.0 L509.4 338.3 L508.5 338.6 L507.5 338.9 L506.5 339.2 L505.5 339.5 L504.6 339.8 L503.6 340.0 L502.6 340.3 L501.6 340.6 L500.6 340.8 L499.6 341.0 L498.6 341.3 L497.7 341.5 L496.7 341.8 L495.7 342.0 L494.7 342.2 L493.7 342.4 L492.7 342.6 L491.7 342.8 L490.7 343.0 L489.7 343.2 L488.7 343.4 L487.7 343.6 L486.8 343.8 L485.8 344.0 L484.8 344.2 L483.8 344.4 L482.8 344.5 L481.8 344.7 L480.8 344.9 L479.8 345.0 L478.8 345.2 L477.8 345.4 L476.8 345.5 L475.8 345.7 L474.8 345.8 L473.8 345.9 L472.9 346.1 L471.9 346.2 L470.9 346.4 L469.9 346.5 L468.9 346.6 L467.9 346.7 L466.9 346.9 L465.9 347.0 L464.9 347.1 L463.9 347.2 L462.9 347.3 L461.9 347.5 L460.9 347.6 L459.9 347.7 L458.9 347.8 L457.9 347.9 L456.9 348.0 L455.9 348.1 L454.9 348.2 L454.0 348.3 L453.0 348.4 L452.0 348.5 L451.0 348.6 L450.0 348.6 L449.0 348.7 L448.0 348.8 L447.0 348.9 L446.0 349.0 L445.0 349.1 L444.0 349.1 L443.0 349.2 L442.0 349.3 L441.0 349.4 L440.0 349.5 L439.0 349.5 L438.0 349.6 L437.0 349.7 L436.0 349.8 L435.0 349.8 L434.0 349.9 L433.0 350.0 L432.0 350.1 L431.0 350.1 L430.0 350.2 L429.0 350.3 L428.0 350.3 L427.0 350.4 L426.0 350.5 L425.0 350.5 L424.0 350.6 L423.0 350.7 L422.0 350.7 L421.0 350.8 L420.0 350.8 L419.0 350.9 L418.0 351.0 L417.0 351.0 L416.0 351.1 L415.1 351.1 L414.1 351.2 L413.1 351.3 L412.1 351.3 L411.1 351.4 L410.1 351.4 L409.1 351.5 L408.1 351.5 L407.1 351.6 L406.1 351.6 L405.1 351.7 L404.1 351.7 L403.1 351.8 L402.1 351.8 L401.1 351.9 L400.1 351.9 L399.1 352.0 L398.1 352.0 L397.1 352.1 L396.1 352.1 L395.1 352.2 L394.1 352.2 L393.1 352.2 L392.1 352.3 L391.1 352.3 L390.1 352.4 L389.1 352.4 L388.1 352.4 L387.1 352.5 L386.1 352.5 L385.1 352.6 L384.1 352.6 L383.1 352.6 L382.1 352.7 L381.1 352.7 L380.1 352.7 L379.1 352.8 L378.1 352.8 L377.1 352.8 L376.1 352.9 L375.1 352.9 L374.1 352.9 L373.1 353.0 L372.1 353.0 L371.1 353.0 L370.1 353.1 L369.1 353.1 L368.1 353.1 L367.1 353.1 L366.1 353.2 L365.1 353.2 L364.1 353.2 L363.1 353.2 L362.1 353.3 L361.0 353.3 L360.0 353.3 L359.0 353.3 L358.0 353.4 L357.0 353.4 L356.0 353.4 L355.0 353.4 L354.0 353.4 L353.0 353.5 L352.0 353.5 L351.0 353.5 L350.0 353.5 L349.0 353.5 L348.0 353.6 L347.0 353.6 L346.0 353.6 L345.0 353.6 L344.0 353.6 L343.0 353.6 L342.0 353.7 L341.0 353.7 L340.0 353.7 L339.0 353.7 L338.0 353.7 L337.0 353.7 L336.0 353.7 L335.0 353.8 L334.0 353.8 L333.0 353.8 L332.0 353.8 L331.0 353.8 L330.0 353.8 L329.0 353.8 L328.0 353.8 L327.0 353.8 L326.0 353.8 L325.0 353.9 L324.0 353.9 L323.0 353.9 L322.0 353.9 L321.0 353.9 L320.0 353.9 L319.0 353.9 L318.0 353.9 L317.0 353.9 L316.0 353.9 L315.0 353.9 L314.0 353.9 L312.9 353.9 L311.9 353.9 L310.9 353.9 L309.9 353.9 L308.9 353.9 L307.9 353.9 L306.9 353.9 L305.9 354.0 L304.9 354.0 L303.9 354.0 L302.9 354.0 L301.9 354.0 L300.9 354.0 L299.9 354.0 L298.9 354.0 L297.9 354.0 L296.9 354.0 L295.9 354.0 L294.9 354.0 L293.9 354.0 L292.9 354.0 L291.9 354.0 L290.9 354.0 L289.9 353.9 L288.9 353.9 L287.9 353.9 L286.9 353.9 L285.9 353.9 L284.9 353.9 L283.9 353.9 L282.9 353.9 L281.9 353.9 L280.9 353.9 L279.8 353.9 L278.8 353.9 L277.8 353.9 L276.8 353.9 L275.8 353.9 L274.8 353.9 L273.8 353.9 L272.8 353.9 L271.8 353.9 L270.8 353.9 L269.8 353.9 L268.8 353.9 L267.8 353.9 L266.8 353.8 L265.8 353.8 L264.8 353.8 L263.8 353.8 L262.8 353.8 L261.8 353.8 L260.8 353.8 L259.8 353.8 L258.8 353.8 L257.8 353.8 L256.8 353.8 L255.8 353.8 L254.8 353.8 L253.8 353.8 L252.8 353.7 L251.7 353.7 L250.7 353.7 L249.7 353.7 L248.7 353.7 L247.7 353.7 L246.7 353.7 L245.7 353.7 L244.7 353.7 L243.7 353.7 L242.7 353.7 L241.7 353.7 L240.7 353.7 L239.7 353.6 L238.7 353.6 L237.7 353.6 L236.7 353.6 L235.7 353.6 L234.7 353.6 L233.7 353.6 L232.7 353.6 L231.7 353.6 L230.7 353.6 L229.7 353.6 L228.7 353.5 L227.7 353.5 L226.7 353.5 L225.7 353.5 L224.6 353.5 L223.6 353.5 L222.6 353.5 L221.6 353.5 L220.6 353.5 L219.6 353.5 L218.6 353.5 L217.6 353.5 L216.6 353.4 L215.6 353.4 L214.6 353.4 L213.6 353.4 L212.6 353.4 L211.6 353.4 L210.6 353.4 L209.6 353.4 L208.6 353.4 L207.6 353.4 L206.6 353.4 L205.6 353.4 L204.6 353.4 L203.6 353.4 L202.6 353.3 L201.6 353.3 L200.6 353.3 L199.6 353.3 L198.6 353.3 L197.6 353.3 L196.6 353.3 L195.5 353.3 L194.5 353.3 L193.5 353.3 L192.5 353.3 L191.5 353.3 L190.5 353.3 L189.5 353.3 L188.5 353.3 L187.5 353.3 L186.5 353.3 L185.5 353.3 L184.5 353.2 L183.5 353.2 L182.5 353.2 L181.5 353.2 L180.5 353.2 L179.5 353.2 L178.5 353.2 L177.5 353.2 L176.5 353.2 L175.5 353.2 L174.5 353.2 L173.5 353.2 L172.5 353.2 L171.5 353.2 L170.5 353.2 L169.5 353.2 L168.5 353.2 L167.5 353.2 L166.5 353.2 L165.5 353.2 L164.5 353.2 L163.4 353.2 L162.4 353.2 L161.4 353.2 L160.4 353.2 L159.4 353.2 L158.4 353.2 L157.4 353.2 L156.4 353.2 L155.4 353.2 L154.4 353.2 L153.4 353.2 L152.4 353.2 L151.4 353.3 L150.4 353.3 L149.4 353.3 L148.4 353.3 L147.4 353.3 L146.4 353.3 L145.4 353.3 L144.4 353.3 L143.4 353.3 L142.4 353.3 L141.4 353.3 L140.4 353.3 L139.4 353.3 L138.4 353.3 L137.4 353.4 L136.4 353.4 L135.4 353.4 L134.4 353.4 L133.4 353.4 L132.4 353.4 L131.4 353.4 L130.4 353.4 L129.4 353.4 L128.4 353.5 L127.4 353.5 L126.4 353.5 L125.4 353.5 L124.4 353.5 L123.4 353.5 L122.4 353.5 L121.4 353.6 L120.4 353.6 L119.4 353.6 L118.4 353.6 L117.4 353.6 L116.4 353.7 L115.3 353.7 L114.3 353.7 L113.3 353.7 L112.3 353.7 L111.3 353.7 L110.3 353.8 L109.3 353.8 L108.3 353.8 L107.3 353.8 L106.3 353.9 L105.3 353.9 L104.3 353.9 L103.3 353.9 L102.3 354.0 L101.3 354.0 L100.3 354.0 L99.3 354.0 L98.3 354.1 L97.3 354.1 L96.3 354.1 L95.3 354.2 L94.3 354.2 L93.3 354.2 L92.3 354.2 L91.3 354.3 L90.3 354.3 L89.3 354.3 L88.3 354.4 L87.3 354.4 L86.3 354.4 L85.3 354.5 L84.3 354.5 L83.3 354.5 L82.3 354.6 L81.3 354.6"/><path d="M81.3 349.7 L82.3 349.7 L83.3 349.7 L84.3 349.7 L85.3 349.7 L86.3 349.7 L87.3 349.7 L88.3 349.6 L89.3 349.6 L90.3 349.6 L91.3 349.6 L92.3 349.6 L93.3 349.6 L94.3 349.6 L95.3 349.6 L96.3 349.6 L97.3 349.6 L98.3 349.6 L99.4 349.6 L100.4 349.6 L101.4 349.6 L102.4 349.6 L103.4 349.6 L104.4 349.6 L105.4 349.6 L106.4 349.6 L107.4 349.6 L108.4 349.6 L109.4 349.6 L110.4 349.6 L111.4 349.6 L112.4 349.6 L113.4 349.6 L114.4 349.6 L115.4 349.6 L116.4 349.6 L117.4 349.6 L118.4 349.6 L119.4 349.6 L120.4 349.6 L121.4 349.6 L122.4 349.6 L123.4 349.6 L124.4 349.6 L125.4 349.6 L126.4 349.6 L127.4 349.6 L128.4 349.6 L129.4 349.6 L130.4 349.6 L131.4 349.6 L132.5 349.6 L133.5 349.6 L134.5 349.6 L135.5 349.6 L136.5 349.6 L137.5 349.6 L138.5 349.6 L139.5 349.7 L140.5 349.7 L141.5 349.7 L142.5 349.7 L143.5 349.7 L144.5 349.7 L145.5 349.7 L146.5 349.7 L147.5 349.7 L148.5 349.7 L149.5 349.7 L150.5 349.7 L151.5 349.7 L152.5 349.7 L153.5 349.7 L154.5 349.8 L155.5 349.8 L156.5 349.8 L157.5 349.8 L158.5 349.8 L159.6 349.8 L160.6 349.8 L161.6 349.8 L162.6 349.8 L163.6 349.8 L164.6 349.8 L165.6 349.9 L166.6 349.9 L167.6 349.9 L168.6 349.9 L169.6 349.9 L170.6 349.9 L171.6 349.9 L172.6 349.9 L173.6 349.9 L174.6 349.9 L175.6 349.9 L176.6 350.0 L177.6 350.0 L178.6 350.0 L179.6 350.0 L180.6 350.0 L181.6 350.0 L182.6 350.0 L183.7 350.0 L184.7 350.0 L185.7 350.0 L186.7 350.0 L187.7 350.1 L188.7 350.1 L189.7 350.1 L190.7 350.1 L191.7 350.1 L192.7 350.1 L193.7 350.1 L194.7 350.1 L195.7 350.1 L196.7 350.1 L197.7 350.1 L198.7 350.2 L199.7 350.2 L200.7 350.2 L201.7 350.2 L202.7 350.2 L203.7 350.2 L204.7 350.2 L205.8 350.2 L206.8 350.2 L207.8 350.2 L208.8 350.2 L209.8 350.2 L210.8 350.2 L211.8 350.3 L212.8 350.3 L213.8 350.3 L214.8 350.3 L215.8 350.3 L216.8 350.3 L217.8 350.3 L218.8 350.3 L219.8 350.3 L220.8 350.3 L221.8 350.3 L222.8 350.3 L223.8 350.3 L224.8 350.3 L225.8 350.3 L226.8 350.3 L227.8 350.4 L228.9 350.4 L229.9 350.4 L230.9 350.4 L231.9 350.4 L232.9 350.4 L233.9 350.4 L234.9 350.4 L235.9 350.4 L236.9 350.4 L237.9 350.4 L238.9 350.4 L239.9 350.4 L240.9 350.4 L241.9 350.4 L242.9 350.4 L243.9 350.4 L244.9 350.4 L245.9 350.4 L246.9 350.4 L247.9 350.4 L248.9 350.4 L249.9 350.4 L250.9 350.4 L251.9 350.4 L253.0 350.4 L254.0 350.4 L255.0 350.4 L256.0 350.4 L257.0 350.4 L258.0 350.4 L259.0 350.4 L260.0 350.4 L261.0 350.4 L262.0 350.4 L263.0 350.4 L264.0 350.4 L265.0 350.4 L266.0 350.3 L267.0 350.3 L268.0 350.3 L269.0 350.3 L270.0 350.3 L271.0 350.3 L272.0 350.3 L273.0 350.3 L274.0 350.3 L275.0 350.3 L276.0 350.3 L277.0 350.3 L278.0 350.3 L279.1 350.2 L280.1 350.2 L281.1 350.2 L282.1 350.2 L283.1 350.2 L284.1 350.2 L285.1 350.2 L286.1 350.2 L287.1 350.1 L288.1 350.1 L289.1 350.1 L290.1 350.1 L291.1 350.1 L292.1 350.1 L293.1 350.0 L294.1 350.0 L295.1 350.0 L296.1 350.0 L297.1 350.0 L298.1 350.0 L299.1 349.9 L300.1 349.9 L301.1 349.9 L302.1 349.9 L303.1 349.9 L304.1 349.8 L305.1 349.8 L306.1 349.8 L307.1 349.8 L308.1 349.7 L309.1 349.7 L310.2 349.7 L311.2 349.7 L312.2 349.6 L313.2 349.6 L314.2 349.6 L315.2 349.6 L316.2 349.5 L317.2 349.5 L318.2 349.5 L319.2 349.4 L320.2 349.4 L321.2 349.4 L322.2 349.4 L323.2 349.3 L324.2 349.3 L325.2 349.3 L326.2 349.2 L327.2 349.2 L328.2 349.1 L329.2 349.1 L330.2 349.1 L331.2 349.0 L332.2 349.0 L333.2 349.0 L334.2 348.9 L335.2 348.9 L336.2 348.8 L337.2 348.8 L338.2 348.8 L339.2 348.7 L340.2 348.7 L341.2 348.6 L342.2 348.6 L343.2 348.5 L344.2 348.5 L345.2 348.5 L346.2 348.4 L347.2 348.4 L348.2 348.3 L349.2 348.3 L350.2 348.2 L351.2 348.2 L352.2 348.1 L353.2 348.1 L354.2 348.0 L355.2 348.0 L356.2 347.9 L357.2 347.8 L358.2 347.8 L359.2 347.7 L360.2 347.7 L361.2 347.6 L362.2 347.5 L363.2 347.5 L364.2 347.4 L365.2 347.3 L366.2 347.2 L367.2 347.1 L368.2 347.0 L369.2 346.9 L370.2 346.8 L371.2 346.7 L372.2 346.5 L373.2 346.4 L374.1 346.2 L375.1 346.1 L376.1 345.9 L377.1 345.7 L378.1 345.5 L379.1 345.3 L380.0 345.1 L381.0 344.9 L382.0 344.6 L383.0 344.4 L383.9 344.1 L384.9 343.8 L385.9 343.5 L386.8 343.3 L387.8 343.0 L388.8 342.7 L389.7 342.4 L390.7 342.1 L391.6 341.8 L392.6 341.5 L393.6 341.2 L394.5 340.9 L395.5 340.6 L396.5 340.3 L397.4 340.0 L398.4 339.8 L399.4 339.5 L400.3 339.2 L401.3 339.0 L402.3 338.8 L403.2 338.5 L404.2 338.3 L405.2 338.1 L406.2 338.0 L407.1 337.8 L408.1 337.7 L409.1 337.5 L410.1 337.4 L411.1 337.3 L412.1 337.2 L413.0 337.1 L414.0 337.0 L415.0 337.0 L416.0 336.9 L417.0 336.8 L418.0 336.8 L419.0 336.8 L420.0 336.8 L421.0 336.7 L422.0 336.7 L423.0 336.7 L424.0 336.8 L425.0 336.8 L426.0 336.8 L427.0 336.8 L428.0 336.9 L429.0 336.9 L430.0 336.9 L431.0 337.0 L432.0 337.0 L433.0 337.1 L434.0 337.1 L435.0 337.2 L436.0 337.3 L437.0 337.3 L438.0 337.4 L439.0 337.4 L440.0 337.5 L441.1 337.6 L442.1 337.6 L443.1 337.7 L444.1 337.7 L445.1 337.8 L446.1 337.9 L447.1 337.9 L448.1 338.0 L449.1 338.0 L450.1 338.1 L451.1 338.1 L452.1 338.2 L453.1 338.2 L454.1 338.3 L455.1 338.3 L456.1 338.4 L457.1 338.4 L458.2 338.5 L459.2 338.5 L460.2 338.5 L461.2 338.6 L462.2 338.6 L463.2 338.6 L464.2 338.6 L465.2 338.7 L466.2 338.7 L467.2 338.7 L468.2 338.7 L469.2 338.7 L470.2 338.7 L471.2 338.7 L472.2 338.7 L473.2 338.7 L474.2 338.7 L475.2 338.7 L476.2 338.6 L477.2 338.6 L478.2 338.6 L479.2 338.6 L480.2 338.5 L481.2 338.5 L482.2 338.4 L483.2 338.4 L484.2 338.3 L485.2 338.2 L486.2 338.2 L487.2 338.1 L488.2 338.0 L489.2 337.9 L490.2 337.8 L491.2 337.8 L492.2 337.7 L493.2 337.6 L494.2 337.5 L495.2 337.3 L496.2 337.2 L497.2 337.1 L498.2 337.0 L499.2 336.9 L500.2 336.7 L501.2 336.6 L502.2 336.5 L503.2 336.3 L504.2 336.2 L505.2 336.0 L506.2 335.9 L507.2 335.7 L508.2 335.6 L509.2 335.4 L510.2 335.3 L511.1 335.1 L512.1 334.9 L513.1 334.8 L514.1 334.6 L515.1 334.4 L516.1 334.2 L517.1 334.0 L518.1 333.9 L519.1 333.7 L520.0 333.5 L521.0 333.3 L522.0 333.1 L523.0 332.9 L524.0 332.7 L525.0 332.5 L525.9 332.3 L526.9 332.1 L527.9 331.9 L528.9 331.7 L529.9 331.4 L530.8 331.2 L531.8 331.0 L532.8 330.8"/><path d="M533.1 331.2 L532.2 331.8 L531.4 332.3 L530.6 332.9 L529.7 333.4 L528.8 333.9 L527.9 334.4 L527.1 334.8 L526.2 335.3 L525.3 335.7 L524.4 336.2 L523.5 336.6 L522.6 337.0 L521.6 337.3 L520.7 337.7 L519.8 338.1 L518.9 338.4 L517.9 338.7 L517.0 339.0 L516.0 339.3 L515.1 339.6 L514.1 339.9 L513.2 340.2 L512.2 340.5 L511.3 340.7 L510.3 341.0 L509.3 341.2 L508.3 341.5 L507.4 341.7 L506.4 341.9 L505.4 342.1 L504.4 342.3 L503.4 342.5 L502.5 342.7 L501.5 342.9 L500.5 343.1 L499.5 343.3 L498.5 343.5 L497.5 343.7 L496.5 343.8 L495.6 344.0 L494.6 344.2 L493.6 344.3 L492.6 344.5 L491.6 344.7 L490.6 344.8 L489.6 345.0 L488.6 345.1 L487.6 345.3 L486.6 345.4 L485.7 345.5 L484.7 345.7 L483.7 345.8 L482.7 346.0 L481.7 346.1 L480.7 346.2 L479.7 346.3 L478.7 346.5 L477.7 346.6 L476.7 346.7 L475.7 346.8 L474.7 346.9 L473.7 347.0 L472.7 347.1 L471.7 347.2 L470.7 347.3 L469.7 347.4 L468.7 347.5 L467.7 347.6 L466.7 347.7 L465.7 347.8 L464.7 347.9 L463.7 348.0 L462.7 348.1 L461.7 348.2 L460.7 348.2 L459.7 348.3 L458.7 348.4 L457.7 348.5 L456.7 348.5 L455.7 348.6 L454.7 348.7 L453.7 348.8 L452.7 348.8 L451.7 348.9 L450.7 349.0 L449.7 349.0 L448.7 349.1 L447.7 349.1 L446.7 349.2 L445.7 349.3 L444.7 349.3 L443.7 349.4 L442.7 349.4 L441.7 349.5 L440.7 349.5 L439.7 349.6 L438.6 349.7 L437.6 349.7 L436.6 349.8 L435.6 349.8 L434.6 349.9 L433.6 349.9 L432.6 350.0 L431.6 350.0 L430.6 350.0 L429.6 350.1 L428.6 350.1 L427.6 350.2 L426.6 350.2 L425.6 350.3 L424.6 350.3 L423.6 350.4 L422.6 350.4 L421.6 350.4 L420.6 350.5 L419.6 350.5 L418.6 350.6 L417.6 350.6 L416.6 350.6 L415.5 350.7 L414.5 350.7 L413.5 350.8 L412.5 350.8 L411.5 350.8 L410.5 350.9 L409.5 350.9 L408.5 351.0 L407.5 351.0 L406.5 351.0 L405.5 351.1 L404.5 351.1 L403.5 351.1 L402.5 351.2 L401.5 351.2 L400.5 351.2 L399.5 351.3 L398.5 351.3 L397.5 351.3 L396.5 351.4 L395.5 351.4 L394.5 351.4 L393.5 351.5 L392.5 351.5 L391.4 351.5 L390.4 351.6 L389.4 351.6 L388.4 351.6 L387.4 351.6 L386.4 351.7 L385.4 351.7 L384.4 351.7 L383.4 351.8 L382.4 351.8 L381.4 351.8 L380.4 351.8 L379.4 351.9 L378.4 351.9 L377.4 351.9 L376.4 351.9 L375.4 352.0 L374.4 352.0 L373.4 352.0 L372.4 352.0 L371.4 352.0 L370.4 352.1 L369.4 352.1 L368.4 352.1 L367.4 352.1 L366.3 352.2 L365.3 352.2 L364.3 352.2 L363.3 352.2 L362.3 352.2 L361.3 352.3 L360.3 352.3 L359.3 352.3 L358.3 352.3 L357.3 352.3 L356.3 352.4 L355.3 352.4 L354.3 352.4 L353.3 352.4 L352.3 352.4 L351.3 352.4 L350.3 352.5 L349.3 352.5 L348.3 352.5 L347.3 352.5 L346.3 352.5 L345.3 352.5 L344.3 352.5 L343.3 352.6 L342.3 352.6 L341.3 352.6 L340.3 352.6 L339.2 352.6 L338.2 352.6 L337.2 352.6 L336.2 352.7 L335.2 352.7 L334.2 352.7 L333.2 352.7 L332.2 352.7 L331.2 352.7 L330.2 352.7 L329.2 352.7 L328.2 352.7 L327.2 352.8 L326.2 352.8 L325.2 352.8 L324.2 352.8 L323.2 352.8 L322.2 352.8 L321.2 352.8 L320.2 352.8 L319.2 352.8 L318.2 352.8 L317.2 352.8 L316.2 352.9 L315.2 352.9 L314.2 352.9 L313.2 352.9 L312.2 352.9 L311.2 352.9 L310.1 352.9 L309.1 352.9 L308.1 352.9 L307.1 352.9 L306.1 352.9 L305.1 352.9 L304.1 352.9 L303.1 352.9 L302.1 352.9 L301.1 352.9 L300.1 353.0 L299.1 353.0 L298.1 353.0 L297.1 353.0 L296.1 353.0 L295.1 353.0 L294.1 353.0 L293.1 353.0 L292.1 353.0 L291.1 353.0 L290.1 353.0 L289.1 353.0 L288.1 353.0 L287.1 353.0 L286.1 353.0 L285.1 353.0 L284.1 353.0 L283.1 353.0 L282.1 353.0 L281.0 353.0 L280.0 353.0 L279.0 353.0 L278.0 353.0 L277.0 353.0 L276.0 353.0 L275.0 353.0 L274.0 353.0 L273.0 353.0 L272.0 353.0 L271.0 353.0 L270.0 353.0 L269.0 353.0 L268.0 353.0 L267.0 353.0 L266.0 353.0 L265.0 353.0 L264.0 353.0 L263.0 353.0 L262.0 353.0 L261.0 353.0 L260.0 353.0 L259.0 353.0 L258.0 353.0 L257.0 353.0 L256.0 353.0 L255.0 353.0 L254.0 353.0 L253.0 353.0 L251.9 353.0 L250.9 353.0 L249.9 353.0 L248.9 353.0 L247.9 353.0 L246.9 353.0 L245.9 353.0 L244.9 353.0 L243.9 353.0 L242.9 353.0 L241.9 353.0 L240.9 353.0 L239.9 353.0 L238.9 353.0 L237.9 353.0 L236.9 353.0 L235.9 353.0 L234.9 353.0 L233.9 353.0 L232.9 353.0 L231.9 353.0 L230.9 353.0 L229.9 352.9 L228.9 352.9 L227.9 352.9 L226.9 352.9 L225.9 352.9 L224.9 352.9 L223.9 352.9 L222.8 352.9 L221.8 352.9 L220.8 352.9 L219.8 352.9 L218.8 352.9 L217.8 352.9 L216.8 352.9 L215.8 352.9 L214.8 352.9 L213.8 352.9 L212.8 352.9 L211.8 352.9 L210.8 352.9 L209.8 352.9 L208.8 352.9 L207.8 352.9 L206.8 352.9 L205.8 352.9 L204.8 352.9 L203.8 352.9 L202.8 352.9 L201.8 352.9 L200.8 352.9 L199.8 352.9 L198.8 352.9 L197.8 352.9 L196.8 352.9 L195.8 352.9 L194.8 352.8 L193.7 352.8 L192.7 352.8 L191.7 352.8 L190.7 352.8 L189.7 352.8 L188.7 352.8 L187.7 352.8 L186.7 352.8 L185.7 352.8 L184.7 352.8 L183.7 352.8 L182.7 352.8 L181.7 352.8 L180.7 352.8 L179.7 352.8 L178.7 352.8 L177.7 352.8 L176.7 352.8 L175.7 352.8 L174.7 352.8 L173.7 352.8 L172.7 352.8 L171.7 352.8 L170.7 352.8 L169.7 352.8 L168.7 352.8 L167.7 352.8 L166.6 352.8 L165.6 352.8 L164.6 352.8 L163.6 352.8 L162.6 352.8 L161.6 352.8 L160.6 352.8 L159.6 352.8 L158.6 352.8 L157.6 352.8 L156.6 352.8 L155.6 352.8 L154.6 352.8 L153.6 352.8 L152.6 352.8 L151.6 352.8 L150.6 352.8 L149.6 352.8 L148.6 352.8 L147.6 352.8 L146.6 352.8 L145.6 352.8 L144.6 352.8 L143.6 352.8 L142.6 352.8 L141.5 352.8 L140.5 352.8 L139.5 352.8 L138.5 352.9 L137.5 352.9 L136.5 352.9 L135.5 352.9 L134.5 352.9 L133.5 352.9 L132.5 352.9 L131.5 352.9 L130.5 352.9 L129.5 352.9 L128.5 352.9 L127.5 352.9 L126.5 352.9 L125.5 352.9 L124.5 352.9 L123.5 352.9 L122.5 352.9 L121.5 352.9 L120.5 352.9 L119.5 353.0 L118.5 353.0 L117.4 353.0 L116.4 353.0 L115.4 353.0 L114.4 353.0 L113.4 353.0 L112.4 353.0 L111.4 353.0 L110.4 353.0 L109.4 353.0 L108.4 353.0 L107.4 353.1 L106.4 353.1 L105.4 353.1 L104.4 353.1 L103.4 353.1 L102.4 353.1 L101.4 353.1 L100.4 353.1 L99.4 353.1 L98.4 353.2 L97.4 353.2 L96.4 353.2 L95.4 353.2 L94.3 353.2 L93.3 353.2 L92.3 353.2 L91.3 353.2 L90.3 353.3 L89.3 353.3 L88.3 353.3 L87.3 353.3 L86.3 353.3 L85.3 353.3 L84.3 353.4 L83.3 353.4 L82.3 353.4 L81.3 353.4"/><path d="M81.3 350.4 L82.3 350.4 L83.3 350.4 L84.3 350.4 L85.3 350.4 L86.3 350.4 L87.3 350.4 L88.3 350.4 L89.3 350.3 L90.3 350.3 L91.3 350.3 L92.3 350.3 L93.3 350.3 L94.3 350.3 L95.3 350.3 L96.3 350.3 L97.3 350.3 L98.3 350.3 L99.3 350.3 L100.3 350.3 L101.3 350.3 L102.3 350.3 L103.3 350.3 L104.3 350.3 L105.3 350.3 L106.4 350.3 L107.4 350.3 L108.4 350.3 L109.4 350.3 L110.4 350.3 L111.4 350.3 L112.4 350.3 L113.4 350.3 L114.4 350.3 L115.4 350.3 L116.4 350.3 L117.4 350.3 L118.4 350.3 L119.4 350.3 L120.4 350.4 L121.4 350.4 L122.4 350.4 L123.4 350.4 L124.4 350.4 L125.4 350.4 L126.4 350.4 L127.4 350.4 L128.4 350.4 L129.4 350.4 L130.4 350.4 L131.4 350.4 L132.4 350.4 L133.4 350.4 L134.4 350.4 L135.4 350.4 L136.4 350.4 L137.4 350.4 L138.4 350.4 L139.4 350.4 L140.4 350.4 L141.4 350.4 L142.4 350.4 L143.4 350.4 L144.4 350.4 L145.4 350.4 L146.4 350.5 L147.4 350.5 L148.4 350.5 L149.4 350.5 L150.4 350.5 L151.5 350.5 L152.5 350.5 L153.5 350.5 L154.5 350.5 L155.5 350.5 L156.5 350.5 L157.5 350.5 L158.5 350.5 L159.5 350.5 L160.5 350.5 L161.5 350.5 L162.5 350.5 L163.5 350.5 L164.5 350.6 L165.5 350.6 L166.5 350.6 L167.5 350.6 L168.5 350.6 L169.5 350.6 L170.5 350.6 L171.5 350.6 L172.5 350.6 L173.5 350.6 L174.5 350.6 L175.5 350.6 L176.5 350.6 L177.5 350.6 L178.5 350.6 L179.5 350.6 L180.5 350.7 L181.5 350.7 L182.5 350.7 L183.5 350.7 L184.5 350.7 L185.5 350.7 L186.5 350.7 L187.5 350.7 L188.5 350.7 L189.5 350.7 L190.6 350.7 L191.6 350.7 L192.6 350.7 L193.6 350.7 L194.6 350.7 L195.6 350.7 L196.6 350.7 L197.6 350.8 L198.6 350.8 L199.6 350.8 L200.6 350.8 L201.6 350.8 L202.6 350.8 L203.6 350.8 L204.6 350.8 L205.6 350.8 L206.6 350.8 L207.6 350.8 L208.6 350.8 L209.6 350.8 L210.6 350.8 L211.6 350.8 L212.6 350.8 L213.6 350.8 L214.6 350.8 L215.6 350.8 L216.6 350.9 L217.6 350.9 L218.6 350.9 L219.6 350.9 L220.6 350.9 L221.6 350.9 L222.6 350.9 L223.6 350.9 L224.6 350.9 L225.6 350.9 L226.6 350.9 L227.6 350.9 L228.7 350.9 L229.7 350.9 L230.7 350.9 L231.7 350.9 L232.7 350.9 L233.7 350.9 L234.7 350.9 L235.7 350.9 L236.7 350.9 L237.7 350.9 L238.7 350.9 L239.7 350.9 L240.7 350.9 L241.7 350.9 L242.7 350.9 L243.7 350.9 L244.7 350.9 L245.7 350.9 L246.7 350.9 L247.7 350.9 L248.7 350.9 L249.7 350.9 L250.7 350.9 L251.7 350.9 L252.7 350.9 L253.7 350.9 L254.7 350.9 L255.7 350.9 L256.7 350.9 L257.7 350.9 L258.7 350.9 L259.7 350.9 L260.7 350.9 L261.7 350.9 L262.7 350.9 L263.7 350.9 L264.7 350.9 L265.7 350.9 L266.7 350.9 L267.7 350.9 L268.8 350.9 L269.8 350.9 L270.8 350.9 L271.8 350.9 L272.8 350.9 L273.8 350.9 L274.8 350.9 L275.8 350.9 L276.8 350.9 L277.8 350.9 L278.8 350.9 L279.8 350.9 L280.8 350.9 L281.8 350.8 L282.8 350.8 L283.8 350.8 L284.8 350.8 L285.8 350.8 L286.8 350.8 L287.8 350.8 L288.8 350.8 L289.8 350.8 L290.8 350.8 L291.8 350.8 L292.8 350.8 L293.8 350.8 L294.8 350.7 L295.8 350.7 L296.8 350.7 L297.8 350.7 L298.8 350.7 L299.8 350.7 L300.8 350.7 L301.8 350.7 L302.8 350.7 L303.8 350.6 L304.8 350.6 L305.8 350.6 L306.8 350.6 L307.8 350.6 L308.8 350.6 L309.8 350.6 L310.8 350.6 L311.8 350.5 L312.8 350.5 L313.8 350.5 L314.8 350.5 L315.9 350.5 L316.9 350.5 L317.9 350.5 L318.9 350.4 L319.9 350.4 L320.9 350.4 L321.9 350.4 L322.9 350.4 L323.9 350.3 L324.9 350.3 L325.9 350.3 L326.9 350.3 L327.9 350.3 L328.9 350.3 L329.9 350.2 L330.9 350.2 L331.9 350.2 L332.9 350.2 L333.9 350.1 L334.9 350.1 L335.9 350.1 L336.9 350.1 L337.9 350.1 L338.9 350.0 L339.9 350.0 L340.9 350.0 L341.9 350.0 L342.9 349.9 L343.9 349.9 L344.9 349.9 L345.9 349.9 L346.9 349.8 L347.9 349.8 L348.9 349.8 L349.9 349.8 L350.9 349.7 L351.9 349.7 L352.9 349.7 L353.9 349.6 L354.9 349.6 L355.9 349.6 L356.9 349.5 L357.9 349.5 L358.9 349.5 L359.9 349.5 L360.9 349.4 L361.9 349.4 L362.9 349.4 L363.9 349.3 L364.9 349.3 L365.9 349.2 L366.9 349.2 L367.9 349.1 L368.9 349.1 L369.9 349.0 L370.9 348.9 L371.9 348.9 L372.9 348.8 L373.9 348.7 L374.9 348.6 L375.9 348.4 L376.9 348.3 L377.9 348.2 L378.8 348.0 L379.8 347.9 L380.8 347.7 L381.8 347.5 L382.8 347.3 L383.7 347.1 L384.7 346.8 L385.7 346.6 L386.7 346.3 L387.6 346.0 L388.6 345.7 L389.6 345.5 L390.5 345.2 L391.5 344.9 L392.5 344.6 L393.5 344.4 L394.4 344.2 L395.4 344.0 L396.4 343.8 L397.4 343.6 L398.4 343.4 L399.4 343.2 L400.3 343.1 L401.3 343.0 L402.3 342.8 L403.3 342.7 L404.3 342.6 L405.3 342.5 L406.3 342.4 L407.3 342.3 L408.3 342.3 L409.3 342.2 L410.3 342.1 L411.3 342.1 L412.3 342.0 L413.3 342.0 L414.3 342.0 L415.3 342.0 L416.3 341.9 L417.3 341.9 L418.3 341.9 L419.3 341.9 L420.3 341.9 L421.3 342.0 L422.3 342.0 L423.3 342.0 L424.3 342.0 L425.3 342.1 L426.3 342.1 L427.3 342.1 L428.3 342.2 L429.3 342.2 L430.3 342.2 L431.3 342.3 L432.3 342.3 L433.3 342.4 L434.3 342.5 L435.3 342.5 L436.3 342.6 L437.3 342.6 L438.4 342.7 L439.4 342.7 L440.4 342.8 L441.4 342.8 L442.4 342.9 L443.4 343.0 L444.4 343.0 L445.4 343.1 L446.4 343.1 L447.4 343.2 L448.4 343.2 L449.4 343.3 L450.4 343.3 L451.4 343.4 L452.4 343.5 L453.4 343.5 L454.4 343.5 L455.4 343.6 L456.4 343.6 L457.4 343.7 L458.4 343.7 L459.4 343.8 L460.4 343.8 L461.4 343.9 L462.4 343.9 L463.4 343.9 L464.5 344.0 L465.5 344.0 L466.5 344.0 L467.5 344.1 L468.5 344.1 L469.5 344.1 L470.5 344.1 L471.5 344.2 L472.5 344.2 L473.5 344.2 L474.5 344.2 L475.5 344.2 L476.5 344.2 L477.5 344.2 L478.5 344.2 L479.5 344.2 L480.5 344.2 L481.5 344.2 L482.5 344.2 L483.5 344.2 L484.5 344.2 L485.5 344.2 L486.5 344.2 L487.5 344.1 L488.5 344.1 L489.5 344.1 L490.5 344.0 L491.5 344.0 L492.5 344.0 L493.5 343.9 L494.5 343.9 L495.5 343.8 L496.5 343.8 L497.5 343.7 L498.5 343.6 L499.5 343.6 L500.5 343.5 L501.4 343.4 L502.4 343.3 L503.4 343.2 L504.4 343.1 L505.4 343.0 L506.4 342.9 L507.4 342.8 L508.4 342.7 L509.4 342.6 L510.4 342.5 L511.4 342.3 L512.4 342.2 L513.4 342.0 L514.4 341.9 L515.3 341.7 L516.3 341.5 L517.3 341.3 L518.3 341.2 L519.3 340.9 L520.3 340.7 L521.2 340.5 L522.2 340.3 L523.2 340.0 L524.1 339.8 L525.1 339.5 L526.1 339.2 L527.0 339.0 L528.0 338.7 L529.0 338.4 L529.9 338.0 L530.9 337.7 L531.8 337.3 L532.8 337.0"/><path d="M533.0 337.5 L532.1 337.9 L531.2 338.4 L530.3 338.8 L529.3 339.2 L528.4 339.6 L527.5 340.0 L526.6 340.4 L525.6 340.7 L524.7 341.1 L523.8 341.4 L522.8 341.7 L521.9 342.0 L520.9 342.3 L520.0 342.6 L519.0 342.9 L518.1 343.2 L517.1 343.4 L516.1 343.7 L515.2 343.9 L514.2 344.2 L513.2 344.4 L512.2 344.6 L511.3 344.8 L510.3 345.0 L509.3 345.2 L508.3 345.4 L507.3 345.5 L506.4 345.7 L505.4 345.9 L504.4 346.0 L503.4 346.2 L502.4 346.3 L501.4 346.5 L500.4 346.6 L499.4 346.8 L498.4 346.9 L497.5 347.0 L496.5 347.1 L495.5 347.3 L494.5 347.4 L493.5 347.5 L492.5 347.6 L491.5 347.7 L490.5 347.8 L489.5 347.9 L488.5 348.0 L487.5 348.1 L486.5 348.2 L485.5 348.3 L484.5 348.4 L483.5 348.4 L482.5 348.5 L481.5 348.6 L480.5 348.7 L479.5 348.7 L478.5 348.8 L477.5 348.9 L476.5 349.0 L475.5 349.0 L474.5 349.1 L473.5 349.1 L472.5 349.2 L471.5 349.2 L470.5 349.3 L469.5 349.3 L468.5 349.4 L467.5 349.4 L466.5 349.5 L465.5 349.5 L464.5 349.6 L463.5 349.6 L462.5 349.7 L461.5 349.7 L460.5 349.7 L459.5 349.8 L458.5 349.8 L457.5 349.8 L456.5 349.9 L455.5 349.9 L454.5 349.9 L453.5 350.0 L452.4 350.0 L451.4 350.0 L450.4 350.0 L449.4 350.1 L448.4 350.1 L447.4 350.1 L446.4 350.1 L445.4 350.2 L444.4 350.2 L443.4 350.2 L442.4 350.2 L441.4 350.3 L440.4 350.3 L439.4 350.3 L438.4 350.3 L437.4 350.4 L436.4 350.4 L435.4 350.4 L434.4 350.4 L433.4 350.5 L432.4 350.5 L431.4 350.5 L430.4 350.5 L429.3 350.5 L428.3 350.6 L427.3 350.6 L426.3 350.6 L425.3 350.6 L424.3 350.6 L423.3 350.7 L422.3 350.7 L421.3 350.7 L420.3 350.7 L419.3 350.8 L418.3 350.8 L417.3 350.8 L416.3 350.8 L415.3 350.8 L414.3 350.8 L413.3 350.9 L412.3 350.9 L411.3 350.9 L410.3 350.9 L409.3 350.9 L408.3 351.0 L407.3 351.0 L406.3 351.0 L405.3 351.0 L404.2 351.0 L403.2 351.0 L402.2 351.1 L401.2 351.1 L400.2 351.1 L399.2 351.1 L398.2 351.1 L397.2 351.2 L396.2 351.2 L395.2 351.2 L394.2 351.2 L393.2 351.2 L392.2 351.2 L391.2 351.2 L390.2 351.3 L389.2 351.3 L388.2 351.3 L387.2 351.3 L386.2 351.3 L385.2 351.3 L384.2 351.3 L383.2 351.4 L382.2 351.4 L381.2 351.4 L380.2 351.4 L379.2 351.4 L378.2 351.4 L377.2 351.4 L376.2 351.5 L375.1 351.5 L374.1 351.5 L373.1 351.5 L372.1 351.5 L371.1 351.5 L370.1 351.5 L369.1 351.5 L368.1 351.6 L367.1 351.6 L366.1 351.6 L365.1 351.6 L364.1 351.6 L363.1 351.6 L362.1 351.6 L361.1 351.6 L360.1 351.6 L359.1 351.7 L358.1 351.7 L357.1 351.7 L356.1 351.7 L355.1 351.7 L354.1 351.7 L353.1 351.7 L352.1 351.7 L351.1 351.7 L350.1 351.8 L349.1 351.8 L348.1 351.8 L347.1 351.8 L346.1 351.8 L345.1 351.8 L344.1 351.8 L343.0 351.8 L342.0 351.8 L341.0 351.8 L340.0 351.8 L339.0 351.9 L338.0 351.9 L337.0 351.9 L336.0 351.9 L335.0 351.9 L334.0 351.9 L333.0 351.9 L332.0 351.9 L331.0 351.9 L330.0 351.9 L329.0 351.9 L328.0 351.9 L327.0 351.9 L326.0 351.9 L325.0 352.0 L324.0 352.0 L323.0 352.0 L322.0 352.0 L321.0 352.0 L320.0 352.0 L319.0 352.0 L318.0 352.0 L317.0 352.0 L316.0 352.0 L315.0 352.0 L314.0 352.0 L313.0 352.0 L312.0 352.0 L311.0 352.0 L310.0 352.0 L309.0 352.1 L307.9 352.1 L306.9 352.1 L305.9 352.1 L304.9 352.1 L303.9 352.1 L302.9 352.1 L301.9 352.1 L300.9 352.1 L299.9 352.1 L298.9 352.1 L297.9 352.1 L296.9 352.1 L295.9 352.1 L294.9 352.1 L293.9 352.1 L292.9 352.1 L291.9 352.1 L290.9 352.1 L289.9 352.1 L288.9 352.1 L287.9 352.1 L286.9 352.1 L285.9 352.2 L284.9 352.2 L283.9 352.2 L282.9 352.2 L281.9 352.2 L280.9 352.2 L279.9 352.2 L278.9 352.2 L277.9 352.2 L276.9 352.2 L275.9 352.2 L274.9 352.2 L273.9 352.2 L272.9 352.2 L271.9 352.2 L270.9 352.2 L269.9 352.2 L268.8 352.2 L267.8 352.2 L266.8 352.2 L265.8 352.2 L264.8 352.2 L263.8 352.2 L262.8 352.2 L261.8 352.2 L260.8 352.2 L259.8 352.2 L258.8 352.2 L257.8 352.2 L256.8 352.2 L255.8 352.2 L254.8 352.2 L253.8 352.2 L252.8 352.2 L251.8 352.2 L250.8 352.2 L249.8 352.2 L248.8 352.2 L247.8 352.2 L246.8 352.2 L245.8 352.2 L244.8 352.2 L243.8 352.2 L242.8 352.2 L241.8 352.3 L240.8 352.3 L239.8 352.3 L238.8 352.3 L237.8 352.3 L236.8 352.3 L235.8 352.3 L234.8 352.3 L233.8 352.3 L232.8 352.3 L231.8 352.3 L230.8 352.3 L229.7 352.3 L228.7 352.3 L227.7 352.3 L226.7 352.3 L225.7 352.3 L224.7 352.3 L223.7 352.3 L222.7 352.3 L221.7 352.3 L220.7 352.3 L219.7 352.3 L218.7 352.3 L217.7 352.3 L216.7 352.3 L215.7 352.3 L214.7 352.3 L213.7 352.3 L212.7 352.3 L211.7 352.3 L210.7 352.3 L209.7 352.3 L208.7 352.3 L207.7 352.3 L206.7 352.3 L205.7 352.3 L204.7 352.3 L203.7 352.3 L202.7 352.3 L201.7 352.3 L200.7 352.3 L199.7 352.3 L198.7 352.3 L197.7 352.3 L196.7 352.3 L195.7 352.3 L194.7 352.3 L193.7 352.3 L192.7 352.3 L191.6 352.3 L190.6 352.3 L189.6 352.3 L188.6 352.3 L187.6 352.3 L186.6 352.3 L185.6 352.3 L184.6 352.3 L183.6 352.3 L182.6 352.3 L181.6 352.3 L180.6 352.3 L179.6 352.3 L178.6 352.3 L177.6 352.3 L176.6 352.3 L175.6 352.3 L174.6 352.3 L173.6 352.3 L172.6 352.3 L171.6 352.3 L170.6 352.3 L169.6 352.3 L168.6 352.3 L167.6 352.3 L166.6 352.3 L165.6 352.3 L164.6 352.3 L163.6 352.3 L162.6 352.3 L161.6 352.3 L160.6 352.3 L159.6 352.3 L158.6 352.3 L157.6 352.3 L156.5 352.3 L155.5 352.3 L154.5 352.3 L153.5 352.3 L152.5 352.3 L151.5 352.3 L150.5 352.3 L149.5 352.3 L148.5 352.3 L147.5 352.4 L146.5 352.4 L145.5 352.4 L144.5 352.4 L143.5 352.4 L142.5 352.4 L141.5 352.4 L140.5 352.4 L139.5 352.4 L138.5 352.4 L137.5 352.4 L136.5 352.4 L135.5 352.4 L134.5 352.4 L133.5 352.4 L132.5 352.4 L131.5 352.4 L130.5 352.4 L129.5 352.4 L128.5 352.4 L127.5 352.4 L126.5 352.4 L125.5 352.4 L124.4 352.4 L123.4 352.4 L122.4 352.4 L121.4 352.4 L120.4 352.4 L119.4 352.4 L118.4 352.4 L117.4 352.4 L116.4 352.4 L115.4 352.4 L114.4 352.5 L113.4 352.5 L112.4 352.5 L111.4 352.5 L110.4 352.5 L109.4 352.5 L108.4 352.5 L107.4 352.5 L106.4 352.5 L105.4 352.5 L104.4 352.5 L103.4 352.5 L102.4 352.5 L101.4 352.5 L100.4 352.5 L99.4 352.5 L98.4 352.5 L97.3 352.5 L96.3 352.5 L95.3 352.5 L94.3 352.6 L93.3 352.6 L92.3 352.6 L91.3 352.6 L90.3 352.6 L89.3 352.6 L88.3 352.6 L87.3 352.6 L86.3 352.6 L85.3 352.6 L84.3 352.6 L83.3 352.6 L82.3 352.6 L81.3 352.6"/></g>
<path d="M81.3 365.3V372.6" stroke="#000" stroke-width="1" fill="none" opacity="0.7"/>
</svg></body></html>
